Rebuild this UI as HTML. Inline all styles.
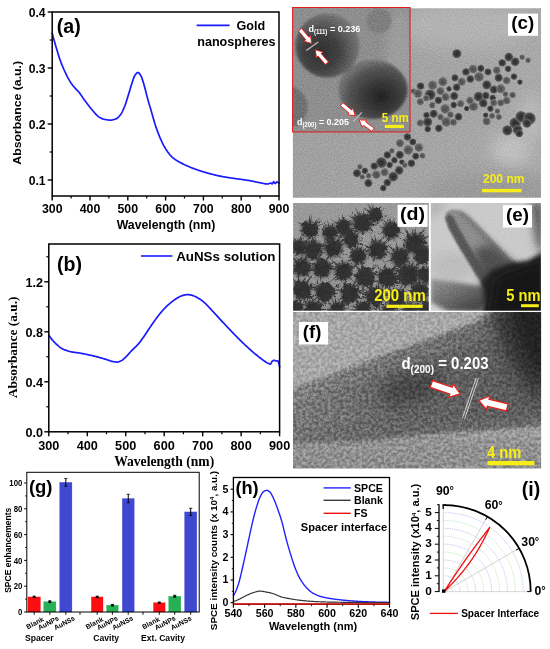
<!DOCTYPE html>
<html lang="en"><head><meta charset="utf-8"><title>Figure</title>
<style>html,body{margin:0;padding:0;background:#fff}svg{display:block}</style></head>
<body>
<svg width="550" height="649" viewBox="0 0 550 649">
<defs>
<filter id="nz" x="0" y="0" width="100%" height="100%" color-interpolation-filters="sRGB">
  <feTurbulence type="fractalNoise" baseFrequency="0.85" numOctaves="2" seed="7"/>
  <feColorMatrix type="matrix" values="1.6 0 0 0 -0.3  1.6 0 0 0 -0.3  1.6 0 0 0 -0.3  0 0 0 0 1"/>
</filter>
<filter id="nzf" x="0" y="0" width="100%" height="100%" color-interpolation-filters="sRGB">
  <feTurbulence type="fractalNoise" baseFrequency="0.32" numOctaves="3" seed="11"/>
  <feColorMatrix type="matrix" values="2.4 0 0 0 -0.7  2.4 0 0 0 -0.7  2.4 0 0 0 -0.7  0 0 0 0 1"/>
</filter>
<filter id="rough" x="-5%" y="-5%" width="110%" height="110%">
  <feTurbulence type="fractalNoise" baseFrequency="0.28" numOctaves="2" seed="4" result="t"/>
  <feDisplacementMap in="SourceGraphic" in2="t" scale="6" xChannelSelector="R" yChannelSelector="G"/>
  <feGaussianBlur stdDeviation="0.55"/>
</filter>
<filter id="b05" x="-20%" y="-20%" width="140%" height="140%"><feGaussianBlur stdDeviation="0.5"/></filter>
<filter id="b1" x="-20%" y="-20%" width="140%" height="140%"><feGaussianBlur stdDeviation="1"/></filter>
<filter id="b2" x="-30%" y="-30%" width="160%" height="160%"><feGaussianBlur stdDeviation="2"/></filter>
<filter id="b4" x="-40%" y="-40%" width="180%" height="180%"><feGaussianBlur stdDeviation="4"/></filter>
<filter id="b8" x="-50%" y="-50%" width="200%" height="200%"><feGaussianBlur stdDeviation="8"/></filter>
<radialGradient id="pt" cx="0.5" cy="0.5" r="0.5">
  <stop offset="0" stop-color="#2a2a2a"/><stop offset="0.55" stop-color="#3c3c3c"/><stop offset="0.85" stop-color="#5c5c5c"/><stop offset="1" stop-color="#808080" stop-opacity="0.6"/>
</radialGradient>
<radialGradient id="pt2" cx="0.45" cy="0.55" r="0.5">
  <stop offset="0" stop-color="#4c4c4c"/><stop offset="0.6" stop-color="#5c5c5c"/><stop offset="0.88" stop-color="#747474"/><stop offset="1" stop-color="#8c8c8c" stop-opacity="0.6"/>
</radialGradient>
<radialGradient id="sph1" cx="0.40" cy="0.60" r="0.62">
  <stop offset="0" stop-color="#303030"/><stop offset="0.45" stop-color="#404040"/><stop offset="0.75" stop-color="#5e5e5e"/><stop offset="1" stop-color="#767676"/>
</radialGradient>
<radialGradient id="sph2" cx="0.62" cy="0.62" r="0.6">
  <stop offset="0" stop-color="#222222"/><stop offset="0.4" stop-color="#383838"/><stop offset="0.8" stop-color="#545454"/><stop offset="1" stop-color="#707070"/>
</radialGradient>
<linearGradient id="cbg" x1="0" y1="0" x2="1" y2="0">
  <stop offset="0" stop-color="#a0a0a0"/><stop offset="0.5" stop-color="#a4a4a4"/><stop offset="1" stop-color="#a9a9a9"/>
</linearGradient>
<linearGradient id="dbg" x1="0" y1="0" x2="0" y2="1">
  <stop offset="0" stop-color="#9a9a9a"/><stop offset="0.4" stop-color="#989898"/><stop offset="1" stop-color="#8e8e8e"/>
</linearGradient>
<linearGradient id="fband" gradientUnits="userSpaceOnUse" x1="293" y1="0" x2="541" y2="0">
  <stop offset="0" stop-color="#828282"/><stop offset="0.4" stop-color="#727272"/><stop offset="1" stop-color="#666666"/>
</linearGradient>
<linearGradient id="fband2" gradientUnits="userSpaceOnUse" x1="293" y1="0" x2="541" y2="0">
  <stop offset="0" stop-color="#787878"/><stop offset="0.4" stop-color="#606060"/><stop offset="1" stop-color="#545454"/>
</linearGradient>
<linearGradient id="espk" gradientUnits="userSpaceOnUse" x1="445" y1="280" x2="462" y2="312">
  <stop offset="0" stop-color="#8a8a8a"/><stop offset="0.5" stop-color="#6c6c6c"/><stop offset="1" stop-color="#4a4a4a"/>
</linearGradient>
<linearGradient id="fbot" x1="0" y1="0" x2="0" y2="1">
  <stop offset="0" stop-color="#000" stop-opacity="0"/><stop offset="0.5" stop-color="#000" stop-opacity="0.13"/><stop offset="1" stop-color="#000" stop-opacity="0.16"/>
</linearGradient>
<clipPath id="clipC"><rect x="292.9" y="8.3" width="248.1" height="189.4"/></clipPath>
<clipPath id="clipIn"><rect x="292.6" y="7" width="117.9" height="125.3"/></clipPath>
<clipPath id="clipD"><rect x="293.1" y="203.0" width="135.7" height="107.8"/></clipPath>
<clipPath id="clipE"><rect x="430.8" y="203.0" width="110.1" height="107.7"/></clipPath>
<clipPath id="clipF"><rect x="293.0" y="312.1" width="248.1" height="156.3"/></clipPath>
</defs>

<rect x="0" y="0" width="550" height="649" fill="#fff"/>
<g id="panel-a">
<polyline points="52.20,33.28 52.77,35.37 53.34,37.44 53.91,39.48 54.47,41.50 55.04,43.49 55.61,45.46 56.18,47.40 56.75,49.35 57.32,51.29 57.88,53.21 58.45,55.08 59.02,56.87 59.59,58.56 60.16,60.14 60.73,61.68 61.29,63.17 61.86,64.63 62.43,66.03 63.00,67.40 63.57,68.73 64.14,70.02 64.71,71.27 65.27,72.49 65.84,73.67 66.41,74.82 66.98,75.96 67.55,77.06 68.12,78.13 68.68,79.17 69.25,80.17 69.82,81.13 70.39,82.04 70.96,82.91 71.53,83.73 72.09,84.50 72.66,85.24 73.23,85.94 73.80,86.62 74.37,87.28 74.94,87.93 75.51,88.57 76.07,89.20 76.64,89.79 77.21,90.36 77.78,90.93 78.35,91.52 78.92,92.16 79.48,92.86 80.05,93.62 80.62,94.42 81.19,95.26 81.76,96.12 82.33,96.99 82.89,97.85 83.46,98.69 84.03,99.51 84.60,100.29 85.17,101.06 85.74,101.83 86.31,102.59 86.87,103.35 87.44,104.11 88.01,104.85 88.58,105.58 89.15,106.31 89.72,107.02 90.28,107.72 90.85,108.40 91.42,109.07 91.99,109.72 92.56,110.38 93.13,111.04 93.69,111.71 94.26,112.38 94.83,113.04 95.40,113.69 95.97,114.31 96.54,114.91 97.11,115.47 97.67,115.99 98.24,116.46 98.81,116.88 99.38,117.24 99.95,117.55 100.52,117.85 101.08,118.14 101.65,118.40 102.22,118.65 102.79,118.88 103.36,119.08 103.93,119.25 104.49,119.40 105.06,119.51 105.63,119.60 106.20,119.69 106.77,119.78 107.34,119.86 107.91,119.93 108.47,119.98 109.04,120.03 109.61,120.06 110.18,120.08 110.75,120.07 111.32,120.04 111.88,119.97 112.45,119.88 113.02,119.76 113.59,119.62 114.16,119.46 114.73,119.28 115.29,119.10 115.86,118.90 116.43,118.63 117.00,118.27 117.57,117.84 118.14,117.33 118.71,116.77 119.27,116.16 119.84,115.51 120.41,114.83 120.98,114.03 121.55,113.09 122.12,112.04 122.68,110.89 123.25,109.66 123.82,108.36 124.39,107.01 124.96,105.63 125.53,104.08 126.09,102.38 126.66,100.57 127.23,98.69 127.80,96.80 128.37,94.92 128.94,93.08 129.51,91.16 130.07,89.22 130.64,87.28 131.21,85.41 131.78,83.65 132.35,81.97 132.92,80.25 133.48,78.59 134.05,77.10 134.62,75.87 135.19,74.99 135.76,74.21 136.33,73.50 136.89,72.93 137.46,72.57 138.03,72.49 138.60,72.74 139.17,73.25 139.74,73.96 140.31,74.77 140.87,75.64 141.44,76.85 142.01,78.38 142.58,80.12 143.15,81.97 143.72,83.81 144.28,85.73 144.85,87.83 145.42,90.04 145.99,92.32 146.56,94.61 147.13,96.85 147.69,99.01 148.26,101.03 148.83,102.97 149.40,104.87 149.97,106.74 150.54,108.61 151.11,110.50 151.67,112.45 152.24,114.46 152.81,116.49 153.38,118.53 153.95,120.54 154.52,122.49 155.08,124.37 155.65,126.14 156.22,127.77 156.79,129.35 157.36,130.89 157.93,132.41 158.49,133.89 159.06,135.34 159.63,136.75 160.20,138.11 160.77,139.43 161.34,140.71 161.91,141.94 162.47,143.11 163.04,144.23 163.61,145.29 164.18,146.30 164.75,147.26 165.32,148.19 165.88,149.11 166.45,149.99 167.02,150.85 167.59,151.69 168.16,152.49 168.73,153.26 169.29,153.99 169.86,154.69 170.43,155.35 171.00,155.97 171.57,156.55 172.14,157.08 172.71,157.58 173.27,158.05 173.84,158.50 174.41,158.93 174.98,159.34 175.55,159.74 176.12,160.12 176.68,160.48 177.25,160.84 177.82,161.18 178.39,161.51 178.96,161.83 179.53,162.15 180.09,162.45 180.66,162.75 181.23,163.05 181.80,163.34 182.37,163.63 182.94,163.92 183.51,164.20 184.07,164.49 184.64,164.76 185.21,165.04 185.78,165.30 186.35,165.56 186.92,165.82 187.48,166.07 188.05,166.32 188.62,166.56 189.19,166.80 189.76,167.03 190.33,167.26 190.89,167.49 191.46,167.71 192.03,167.94 192.60,168.15 193.17,168.37 193.74,168.58 194.31,168.79 194.87,169.00 195.44,169.21 196.01,169.41 196.58,169.61 197.15,169.81 197.72,170.01 198.28,170.20 198.85,170.39 199.42,170.58 199.99,170.77 200.56,170.96 201.13,171.14 201.69,171.32 202.26,171.50 202.83,171.68 203.40,171.85 203.97,172.03 204.54,172.20 205.11,172.36 205.67,172.53 206.24,172.69 206.81,172.85 207.38,173.01 207.95,173.17 208.52,173.32 209.08,173.48 209.65,173.63 210.22,173.78 210.79,173.93 211.36,174.08 211.93,174.22 212.49,174.37 213.06,174.51 213.63,174.65 214.20,174.79 214.77,174.93 215.34,175.06 215.91,175.20 216.47,175.33 217.04,175.46 217.61,175.58 218.18,175.71 218.75,175.83 219.32,175.95 219.88,176.07 220.45,176.18 221.02,176.30 221.59,176.40 222.16,176.51 222.73,176.62 223.29,176.72 223.86,176.82 224.43,176.92 225.00,177.01 225.57,177.11 226.14,177.20 226.71,177.29 227.27,177.39 227.84,177.47 228.41,177.56 228.98,177.65 229.55,177.74 230.12,177.82 230.68,177.91 231.25,177.99 231.82,178.08 232.39,178.16 232.96,178.25 233.53,178.33 234.09,178.41 234.66,178.50 235.23,178.58 235.80,178.67 236.37,178.75 236.94,178.83 237.51,178.91 238.07,178.98 238.64,179.06 239.21,179.13 239.78,179.21 240.35,179.28 240.92,179.36 241.48,179.43 242.05,179.51 242.62,179.58 243.19,179.66 243.76,179.73 244.33,179.81 244.89,179.89 245.46,179.97 246.03,180.05 246.60,180.14 247.17,180.22 247.74,180.31 248.31,180.40 248.87,180.50 249.44,180.60 250.01,180.70 250.58,180.81 251.15,180.92 251.72,181.04 252.28,181.15 252.85,181.27 253.42,181.39 253.99,181.51 254.56,181.64 255.13,181.76 255.69,181.88 256.26,182.00 256.83,182.12 257.40,182.24 257.97,182.35 258.54,182.46 259.11,182.57 259.67,182.67 260.24,182.78 260.81,182.90 261.38,183.02 261.95,183.15 262.52,183.27 263.08,183.40 263.65,183.51 264.22,183.62 264.79,183.72 265.36,183.81 265.93,183.88 266.49,183.93 267.06,183.97 267.63,183.98 268.20,183.88 268.77,183.68 269.34,183.44 269.91,183.22 270.47,183.09 271.04,183.20 271.61,183.64 272.18,183.92 272.75,183.24 273.32,182.05 273.88,181.75 274.45,182.64 275.02,183.55 275.59,183.39 276.16,182.50 276.73,181.96 277.29,182.00 277.86,182.19 278.43,182.61 279.00,183.36" fill="none" stroke="#1a1aff" stroke-width="1.7" stroke-linejoin="round" stroke-linecap="round" />
<rect x="52.2" y="12.0" width="226.80" height="184.00" fill="none" stroke="#000" stroke-width="1.5"/>
<line x1="47.70" y1="180.00" x2="52.20" y2="180.00" stroke="#000" stroke-width="1.4" />
<text transform="translate(45.60,184.70) scale(0.93,1)" font-family='"Liberation Sans", Arial, sans-serif' font-size="13.1" font-weight="bold" text-anchor="end" fill="#000" >0.1</text>
<line x1="47.70" y1="124.00" x2="52.20" y2="124.00" stroke="#000" stroke-width="1.4" />
<text transform="translate(45.60,128.70) scale(0.93,1)" font-family='"Liberation Sans", Arial, sans-serif' font-size="13.1" font-weight="bold" text-anchor="end" fill="#000" >0.2</text>
<line x1="47.70" y1="68.00" x2="52.20" y2="68.00" stroke="#000" stroke-width="1.4" />
<text transform="translate(45.60,72.70) scale(0.93,1)" font-family='"Liberation Sans", Arial, sans-serif' font-size="13.1" font-weight="bold" text-anchor="end" fill="#000" >0.3</text>
<line x1="47.70" y1="12.00" x2="52.20" y2="12.00" stroke="#000" stroke-width="1.4" />
<text transform="translate(45.60,16.70) scale(0.93,1)" font-family='"Liberation Sans", Arial, sans-serif' font-size="13.1" font-weight="bold" text-anchor="end" fill="#000" >0.4</text>
<line x1="49.70" y1="152.00" x2="52.20" y2="152.00" stroke="#000" stroke-width="1.2" />
<line x1="49.70" y1="96.00" x2="52.20" y2="96.00" stroke="#000" stroke-width="1.2" />
<line x1="49.70" y1="40.00" x2="52.20" y2="40.00" stroke="#000" stroke-width="1.2" />
<line x1="52.20" y1="196.00" x2="52.20" y2="200.50" stroke="#000" stroke-width="1.4" />
<text transform="translate(52.20,213.20) scale(0.93,1)" font-family='"Liberation Sans", Arial, sans-serif' font-size="13.3" font-weight="bold" text-anchor="middle" fill="#000" >300</text>
<line x1="90.00" y1="196.00" x2="90.00" y2="200.50" stroke="#000" stroke-width="1.4" />
<text transform="translate(90.00,213.20) scale(0.93,1)" font-family='"Liberation Sans", Arial, sans-serif' font-size="13.3" font-weight="bold" text-anchor="middle" fill="#000" >400</text>
<line x1="127.80" y1="196.00" x2="127.80" y2="200.50" stroke="#000" stroke-width="1.4" />
<text transform="translate(127.80,213.20) scale(0.93,1)" font-family='"Liberation Sans", Arial, sans-serif' font-size="13.3" font-weight="bold" text-anchor="middle" fill="#000" >500</text>
<line x1="165.60" y1="196.00" x2="165.60" y2="200.50" stroke="#000" stroke-width="1.4" />
<text transform="translate(165.60,213.20) scale(0.93,1)" font-family='"Liberation Sans", Arial, sans-serif' font-size="13.3" font-weight="bold" text-anchor="middle" fill="#000" >600</text>
<line x1="203.40" y1="196.00" x2="203.40" y2="200.50" stroke="#000" stroke-width="1.4" />
<text transform="translate(203.40,213.20) scale(0.93,1)" font-family='"Liberation Sans", Arial, sans-serif' font-size="13.3" font-weight="bold" text-anchor="middle" fill="#000" >700</text>
<line x1="241.20" y1="196.00" x2="241.20" y2="200.50" stroke="#000" stroke-width="1.4" />
<text transform="translate(241.20,213.20) scale(0.93,1)" font-family='"Liberation Sans", Arial, sans-serif' font-size="13.3" font-weight="bold" text-anchor="middle" fill="#000" >800</text>
<line x1="279.00" y1="196.00" x2="279.00" y2="200.50" stroke="#000" stroke-width="1.4" />
<text transform="translate(279.00,213.20) scale(0.93,1)" font-family='"Liberation Sans", Arial, sans-serif' font-size="13.3" font-weight="bold" text-anchor="middle" fill="#000" >900</text>
<line x1="71.10" y1="196.00" x2="71.10" y2="198.50" stroke="#000" stroke-width="1.2" />
<line x1="108.90" y1="196.00" x2="108.90" y2="198.50" stroke="#000" stroke-width="1.2" />
<line x1="146.70" y1="196.00" x2="146.70" y2="198.50" stroke="#000" stroke-width="1.2" />
<line x1="184.50" y1="196.00" x2="184.50" y2="198.50" stroke="#000" stroke-width="1.2" />
<line x1="222.30" y1="196.00" x2="222.30" y2="198.50" stroke="#000" stroke-width="1.2" />
<line x1="260.10" y1="196.00" x2="260.10" y2="198.50" stroke="#000" stroke-width="1.2" />
<text transform="translate(20.60,112.80) scale(0.9,1) rotate(-90)" font-family='"Liberation Sans", Arial, sans-serif' font-size="12.3" font-weight="bold" text-anchor="middle" fill="#000" >Absorbance (a.u.)</text>
<text transform="translate(166.00,229.30) scale(0.925,1)" font-family='"Liberation Sans", Arial, sans-serif' font-size="13.3" font-weight="bold" text-anchor="middle" fill="#000" >Wavelength (nm)</text>
<text x="56.80" y="32.80" font-family='"Liberation Sans", Arial, sans-serif' font-size="19.6" font-weight="bold" text-anchor="start" fill="#000" >(a)</text>
<line x1="196.60" y1="25.40" x2="229.60" y2="25.40" stroke="#1a1aff" stroke-width="1.6" />
<text x="250.80" y="29.90" font-family='"Liberation Sans", Arial, sans-serif' font-size="12.6" font-weight="bold" text-anchor="middle" fill="#000" >Gold</text>
<text x="236.40" y="45.80" font-family='"Liberation Sans", Arial, sans-serif' font-size="12.6" font-weight="bold" text-anchor="middle" fill="#000" >nanospheres</text>
</g>
<g id="panel-b">
<polyline points="48.80,335.18 49.38,336.00 49.96,336.82 50.54,337.61 51.11,338.38 51.69,339.13 52.27,339.86 52.85,340.55 53.43,341.21 54.01,341.84 54.58,342.44 55.16,343.01 55.74,343.58 56.32,344.14 56.90,344.68 57.48,345.21 58.06,345.72 58.63,346.21 59.21,346.68 59.79,347.12 60.37,347.54 60.95,347.93 61.53,348.28 62.10,348.59 62.68,348.88 63.26,349.15 63.84,349.42 64.42,349.67 65.00,349.91 65.57,350.14 66.15,350.36 66.73,350.57 67.31,350.77 67.89,350.96 68.47,351.14 69.05,351.30 69.62,351.45 70.20,351.60 70.78,351.73 71.36,351.85 71.94,351.96 72.52,352.06 73.09,352.15 73.67,352.24 74.25,352.32 74.83,352.40 75.41,352.47 75.99,352.55 76.57,352.62 77.14,352.69 77.72,352.77 78.30,352.85 78.88,352.94 79.46,353.03 80.04,353.13 80.61,353.23 81.19,353.33 81.77,353.44 82.35,353.55 82.93,353.66 83.51,353.77 84.09,353.88 84.66,354.00 85.24,354.11 85.82,354.23 86.40,354.35 86.98,354.47 87.56,354.60 88.13,354.72 88.71,354.85 89.29,354.98 89.87,355.11 90.45,355.24 91.03,355.37 91.61,355.50 92.18,355.64 92.76,355.77 93.34,355.91 93.92,356.05 94.50,356.19 95.08,356.33 95.65,356.47 96.23,356.62 96.81,356.77 97.39,356.92 97.97,357.08 98.55,357.23 99.12,357.39 99.70,357.56 100.28,357.72 100.86,357.89 101.44,358.06 102.02,358.22 102.60,358.39 103.17,358.56 103.75,358.74 104.33,358.91 104.91,359.08 105.49,359.25 106.07,359.42 106.64,359.59 107.22,359.78 107.80,359.97 108.38,360.18 108.96,360.39 109.54,360.59 110.12,360.80 110.69,361.00 111.27,361.18 111.85,361.34 112.43,361.49 113.01,361.61 113.59,361.70 114.16,361.78 114.74,361.86 115.32,361.93 115.90,361.99 116.48,362.03 117.06,362.05 117.64,362.03 118.21,361.94 118.79,361.78 119.37,361.58 119.95,361.33 120.53,361.07 121.11,360.81 121.68,360.50 122.26,360.13 122.84,359.70 123.42,359.23 124.00,358.71 124.58,358.17 125.15,357.61 125.73,357.04 126.31,356.48 126.89,355.92 127.47,355.32 128.05,354.69 128.63,354.04 129.20,353.38 129.78,352.71 130.36,352.05 130.94,351.41 131.52,350.78 132.10,350.19 132.67,349.62 133.25,349.06 133.83,348.51 134.41,347.96 134.99,347.42 135.57,346.86 136.15,346.30 136.72,345.72 137.30,345.11 137.88,344.48 138.46,343.82 139.04,343.13 139.62,342.41 140.19,341.67 140.77,340.91 141.35,340.13 141.93,339.34 142.51,338.54 143.09,337.74 143.67,336.91 144.24,336.06 144.82,335.19 145.40,334.31 145.98,333.42 146.56,332.55 147.14,331.68 147.71,330.82 148.29,329.96 148.87,329.10 149.45,328.24 150.03,327.39 150.61,326.53 151.18,325.69 151.76,324.84 152.34,324.01 152.92,323.18 153.50,322.35 154.08,321.52 154.66,320.69 155.23,319.87 155.81,319.06 156.39,318.26 156.97,317.47 157.55,316.70 158.13,315.95 158.70,315.21 159.28,314.48 159.86,313.77 160.44,313.07 161.02,312.38 161.60,311.71 162.18,311.04 162.75,310.39 163.33,309.74 163.91,309.10 164.49,308.48 165.07,307.87 165.65,307.28 166.22,306.70 166.80,306.14 167.38,305.59 167.96,305.06 168.54,304.53 169.12,304.03 169.70,303.53 170.27,303.05 170.85,302.58 171.43,302.12 172.01,301.67 172.59,301.24 173.17,300.81 173.74,300.39 174.32,299.98 174.90,299.57 175.48,299.18 176.06,298.79 176.64,298.41 177.22,298.06 177.79,297.73 178.37,297.41 178.95,297.10 179.53,296.81 180.11,296.53 180.69,296.26 181.26,296.02 181.84,295.80 182.42,295.58 183.00,295.38 183.58,295.20 184.16,295.06 184.73,294.94 185.31,294.83 185.89,294.72 186.47,294.65 187.05,294.61 187.63,294.62 188.21,294.65 188.78,294.71 189.36,294.78 189.94,294.86 190.52,294.95 191.10,295.07 191.68,295.23 192.25,295.41 192.83,295.60 193.41,295.80 193.99,296.03 194.57,296.27 195.15,296.53 195.73,296.81 196.30,297.11 196.88,297.41 197.46,297.72 198.04,298.04 198.62,298.37 199.20,298.72 199.77,299.08 200.35,299.46 200.93,299.85 201.51,300.26 202.09,300.69 202.67,301.12 203.25,301.58 203.82,302.07 204.40,302.58 204.98,303.12 205.56,303.68 206.14,304.25 206.72,304.84 207.29,305.42 207.87,306.01 208.45,306.61 209.03,307.23 209.61,307.86 210.19,308.49 210.76,309.13 211.34,309.77 211.92,310.41 212.50,311.03 213.08,311.66 213.66,312.29 214.24,312.91 214.81,313.54 215.39,314.17 215.97,314.79 216.55,315.42 217.13,316.05 217.71,316.68 218.28,317.30 218.86,317.93 219.44,318.56 220.02,319.19 220.60,319.81 221.18,320.44 221.76,321.06 222.33,321.68 222.91,322.30 223.49,322.92 224.07,323.54 224.65,324.16 225.23,324.78 225.80,325.40 226.38,326.02 226.96,326.64 227.54,327.25 228.12,327.86 228.70,328.48 229.28,329.08 229.85,329.69 230.43,330.30 231.01,330.90 231.59,331.50 232.17,332.10 232.75,332.70 233.32,333.29 233.90,333.89 234.48,334.49 235.06,335.08 235.64,335.67 236.22,336.27 236.79,336.86 237.37,337.44 237.95,338.03 238.53,338.61 239.11,339.19 239.69,339.76 240.27,340.33 240.84,340.90 241.42,341.47 242.00,342.03 242.58,342.59 243.16,343.14 243.74,343.69 244.31,344.24 244.89,344.78 245.47,345.33 246.05,345.87 246.63,346.41 247.21,346.94 247.79,347.47 248.36,348.00 248.94,348.52 249.52,349.04 250.10,349.56 250.68,350.07 251.26,350.58 251.83,351.08 252.41,351.58 252.99,352.07 253.57,352.56 254.15,353.05 254.73,353.54 255.31,354.03 255.88,354.51 256.46,354.99 257.04,355.47 257.62,355.95 258.20,356.42 258.78,356.88 259.35,357.34 259.93,357.79 260.51,358.24 261.09,358.68 261.67,359.11 262.25,359.54 262.83,359.95 263.40,360.36 263.98,360.76 264.56,361.16 265.14,361.56 265.72,361.95 266.30,362.32 266.87,362.68 267.45,363.00 268.03,363.29 268.61,363.57 269.19,363.86 269.77,364.08 270.34,364.17 270.92,363.65 271.50,362.47 272.08,361.39 272.66,360.92 273.24,360.58 273.82,360.35 274.39,360.32 274.97,360.56 275.55,360.88 276.13,361.05 276.71,360.97 277.29,360.84 277.86,360.88 278.44,361.99 279.02,364.10 279.60,366.80" fill="none" stroke="#1a1aff" stroke-width="1.7" stroke-linejoin="round" stroke-linecap="round" />
<rect x="48.8" y="244.0" width="230.80" height="187.80" fill="none" stroke="#000" stroke-width="1.5"/>
<line x1="44.30" y1="431.80" x2="48.80" y2="431.80" stroke="#000" stroke-width="1.4" />
<text transform="translate(43.00,436.50) scale(0.95,1)" font-family='"Liberation Sans", Arial, sans-serif' font-size="13.3" font-weight="bold" text-anchor="end" fill="#000" >0.0</text>
<line x1="44.30" y1="381.80" x2="48.80" y2="381.80" stroke="#000" stroke-width="1.4" />
<text transform="translate(43.00,386.50) scale(0.95,1)" font-family='"Liberation Sans", Arial, sans-serif' font-size="13.3" font-weight="bold" text-anchor="end" fill="#000" >0.4</text>
<line x1="44.30" y1="331.80" x2="48.80" y2="331.80" stroke="#000" stroke-width="1.4" />
<text transform="translate(43.00,336.50) scale(0.95,1)" font-family='"Liberation Sans", Arial, sans-serif' font-size="13.3" font-weight="bold" text-anchor="end" fill="#000" >0.8</text>
<line x1="44.30" y1="281.80" x2="48.80" y2="281.80" stroke="#000" stroke-width="1.4" />
<text transform="translate(43.00,286.50) scale(0.95,1)" font-family='"Liberation Sans", Arial, sans-serif' font-size="13.3" font-weight="bold" text-anchor="end" fill="#000" >1.2</text>
<line x1="46.30" y1="406.80" x2="48.80" y2="406.80" stroke="#000" stroke-width="1.2" />
<line x1="46.30" y1="356.80" x2="48.80" y2="356.80" stroke="#000" stroke-width="1.2" />
<line x1="46.30" y1="306.80" x2="48.80" y2="306.80" stroke="#000" stroke-width="1.2" />
<line x1="46.30" y1="256.80" x2="48.80" y2="256.80" stroke="#000" stroke-width="1.2" />
<line x1="48.80" y1="431.80" x2="48.80" y2="436.30" stroke="#000" stroke-width="1.4" />
<text transform="translate(48.80,449.80) scale(0.95,1)" font-family='"Liberation Sans", Arial, sans-serif' font-size="13.4" font-weight="bold" text-anchor="middle" fill="#000" >300</text>
<line x1="87.27" y1="431.80" x2="87.27" y2="436.30" stroke="#000" stroke-width="1.4" />
<text transform="translate(87.27,449.80) scale(0.95,1)" font-family='"Liberation Sans", Arial, sans-serif' font-size="13.4" font-weight="bold" text-anchor="middle" fill="#000" >400</text>
<line x1="125.73" y1="431.80" x2="125.73" y2="436.30" stroke="#000" stroke-width="1.4" />
<text transform="translate(125.73,449.80) scale(0.95,1)" font-family='"Liberation Sans", Arial, sans-serif' font-size="13.4" font-weight="bold" text-anchor="middle" fill="#000" >500</text>
<line x1="164.20" y1="431.80" x2="164.20" y2="436.30" stroke="#000" stroke-width="1.4" />
<text transform="translate(164.20,449.80) scale(0.95,1)" font-family='"Liberation Sans", Arial, sans-serif' font-size="13.4" font-weight="bold" text-anchor="middle" fill="#000" >600</text>
<line x1="202.67" y1="431.80" x2="202.67" y2="436.30" stroke="#000" stroke-width="1.4" />
<text transform="translate(202.67,449.80) scale(0.95,1)" font-family='"Liberation Sans", Arial, sans-serif' font-size="13.4" font-weight="bold" text-anchor="middle" fill="#000" >700</text>
<line x1="241.13" y1="431.80" x2="241.13" y2="436.30" stroke="#000" stroke-width="1.4" />
<text transform="translate(241.13,449.80) scale(0.95,1)" font-family='"Liberation Sans", Arial, sans-serif' font-size="13.4" font-weight="bold" text-anchor="middle" fill="#000" >800</text>
<line x1="279.60" y1="431.80" x2="279.60" y2="436.30" stroke="#000" stroke-width="1.4" />
<text transform="translate(279.60,449.80) scale(0.95,1)" font-family='"Liberation Sans", Arial, sans-serif' font-size="13.4" font-weight="bold" text-anchor="middle" fill="#000" >900</text>
<line x1="68.03" y1="431.80" x2="68.03" y2="434.30" stroke="#000" stroke-width="1.2" />
<line x1="106.50" y1="431.80" x2="106.50" y2="434.30" stroke="#000" stroke-width="1.2" />
<line x1="144.97" y1="431.80" x2="144.97" y2="434.30" stroke="#000" stroke-width="1.2" />
<line x1="183.43" y1="431.80" x2="183.43" y2="434.30" stroke="#000" stroke-width="1.2" />
<line x1="221.90" y1="431.80" x2="221.90" y2="434.30" stroke="#000" stroke-width="1.2" />
<line x1="260.37" y1="431.80" x2="260.37" y2="434.30" stroke="#000" stroke-width="1.2" />
<text transform="translate(16.80,347.30) rotate(-90)" font-family='"Liberation Serif", "Times New Roman", serif' font-size="13.4" font-weight="bold" text-anchor="middle" fill="#000" >Absorbance (a.u.)</text>
<text x="164.20" y="466.00" font-family='"Liberation Serif", "Times New Roman", serif' font-size="13.6" font-weight="bold" text-anchor="middle" fill="#000" >Wavelength (nm)</text>
<text x="57.00" y="270.50" font-family='"Liberation Sans", Arial, sans-serif' font-size="19.6" font-weight="bold" text-anchor="start" fill="#000" >(b)</text>
<line x1="141.00" y1="256.00" x2="172.40" y2="256.00" stroke="#1a1aff" stroke-width="1.6" />
<text x="176.20" y="260.60" font-family='"Liberation Sans", Arial, sans-serif' font-size="13.35" font-weight="bold" text-anchor="start" fill="#000" >AuNSs solution</text>
</g>
<g id="panel-c">
<g clip-path="url(#clipC)">
<rect x="292" y="8" width="250" height="190" fill="url(#cbg)"/>
<ellipse cx="511" cy="150" rx="20" ry="17" fill="#d0d0d0" opacity="0.62" filter="url(#b8)"/>
<ellipse cx="532" cy="118" rx="12" ry="24" fill="#cccccc" opacity="0.5" filter="url(#b8)"/>
<ellipse cx="460" cy="26" rx="70" ry="22" fill="#c0c0c0" opacity="0.5" filter="url(#b8)"/>
<ellipse cx="495" cy="192" rx="70" ry="20" fill="#969696" opacity="0.75" filter="url(#b8)"/>
<ellipse cx="440" cy="95" rx="50" ry="30" fill="#a2a2a2" opacity="0.45" filter="url(#b8)"/>
<g filter="url(#b05)">
<circle cx="456.8" cy="53.7" r="4.82" fill="url(#pt)"/>
<circle cx="508.8" cy="57.0" r="4.54" fill="url(#pt)"/>
<circle cx="515.2" cy="61.7" r="4.54" fill="url(#pt)"/>
<circle cx="522.3" cy="57.0" r="2.84" fill="url(#pt2)"/>
<circle cx="528.2" cy="60.1" r="2.84" fill="url(#pt2)"/>
<circle cx="502.2" cy="62.9" r="3.97" fill="url(#pt)"/>
<circle cx="508.1" cy="68.8" r="3.40" fill="url(#pt)"/>
<circle cx="497.0" cy="70.0" r="3.97" fill="url(#pt2)"/>
<circle cx="488.0" cy="71.9" r="3.69" fill="url(#pt)"/>
<circle cx="480.9" cy="68.4" r="3.69" fill="url(#pt)"/>
<circle cx="473.4" cy="68.8" r="4.54" fill="url(#pt2)"/>
<circle cx="466.0" cy="71.9" r="3.97" fill="url(#pt)"/>
<circle cx="479.3" cy="76.6" r="5.11" fill="url(#pt2)"/>
<circle cx="470.3" cy="79.0" r="3.97" fill="url(#pt)"/>
<circle cx="462.0" cy="81.4" r="4.26" fill="url(#pt2)"/>
<circle cx="454.9" cy="77.8" r="3.69" fill="url(#pt)"/>
<circle cx="443.1" cy="81.4" r="4.82" fill="url(#pt2)"/>
<circle cx="432.9" cy="84.9" r="4.82" fill="url(#pt2)"/>
<circle cx="420.6" cy="86.1" r="3.97" fill="url(#pt)"/>
<circle cx="413.5" cy="90.8" r="2.84" fill="url(#pt2)"/>
<circle cx="418.3" cy="93.2" r="4.54" fill="url(#pt2)"/>
<circle cx="430.1" cy="94.8" r="5.67" fill="url(#pt)"/>
<circle cx="440.7" cy="90.8" r="4.26" fill="url(#pt2)"/>
<circle cx="449.0" cy="88.9" r="2.84" fill="url(#pt)"/>
<circle cx="456.6" cy="87.3" r="3.97" fill="url(#pt)"/>
<circle cx="454.2" cy="96.0" r="4.26" fill="url(#pt)"/>
<circle cx="445.9" cy="96.7" r="4.26" fill="url(#pt2)"/>
<circle cx="438.4" cy="100.3" r="3.97" fill="url(#pt)"/>
<circle cx="426.5" cy="97.9" r="3.40" fill="url(#pt2)"/>
<circle cx="420.6" cy="101.5" r="3.69" fill="url(#pt2)"/>
<circle cx="432.5" cy="105.0" r="3.40" fill="url(#pt2)"/>
<circle cx="445.5" cy="108.6" r="5.11" fill="url(#pt2)"/>
<circle cx="453.7" cy="105.0" r="3.40" fill="url(#pt)"/>
<circle cx="460.8" cy="103.4" r="3.69" fill="url(#pt2)"/>
<circle cx="466.7" cy="108.6" r="2.84" fill="url(#pt)"/>
<circle cx="473.8" cy="106.2" r="4.82" fill="url(#pt2)"/>
<circle cx="470.3" cy="100.3" r="3.97" fill="url(#pt2)"/>
<circle cx="478.6" cy="96.7" r="5.11" fill="url(#pt)"/>
<circle cx="486.8" cy="84.9" r="4.82" fill="url(#pt)"/>
<circle cx="493.9" cy="89.6" r="4.26" fill="url(#pt)"/>
<circle cx="501.0" cy="88.5" r="4.82" fill="url(#pt2)"/>
<circle cx="498.7" cy="77.8" r="4.26" fill="url(#pt)"/>
<circle cx="506.9" cy="80.2" r="3.97" fill="url(#pt2)"/>
<circle cx="514.0" cy="76.6" r="3.40" fill="url(#pt)"/>
<circle cx="519.9" cy="82.1" r="2.84" fill="url(#pt)"/>
<circle cx="485.7" cy="95.6" r="3.97" fill="url(#pt)"/>
<circle cx="492.7" cy="97.9" r="3.40" fill="url(#pt)"/>
<circle cx="483.3" cy="103.1" r="4.54" fill="url(#pt)"/>
<circle cx="490.4" cy="108.6" r="3.40" fill="url(#pt)"/>
<circle cx="493.9" cy="102.6" r="3.69" fill="url(#pt2)"/>
<circle cx="501.0" cy="102.6" r="3.69" fill="url(#pt2)"/>
<circle cx="506.9" cy="100.3" r="3.97" fill="url(#pt2)"/>
<circle cx="512.8" cy="94.8" r="3.40" fill="url(#pt2)"/>
<circle cx="505.7" cy="93.9" r="2.84" fill="url(#pt2)"/>
<circle cx="497.5" cy="110.9" r="2.84" fill="url(#pt2)"/>
<circle cx="485.7" cy="115.2" r="2.84" fill="url(#pt)"/>
<circle cx="492.3" cy="115.7" r="3.12" fill="url(#pt2)"/>
<circle cx="499.1" cy="116.8" r="3.12" fill="url(#pt2)"/>
<circle cx="486.8" cy="121.1" r="4.26" fill="url(#pt2)"/>
<circle cx="433.6" cy="113.8" r="4.26" fill="url(#pt)"/>
<circle cx="440.7" cy="116.8" r="3.40" fill="url(#pt2)"/>
<circle cx="426.5" cy="115.2" r="3.40" fill="url(#pt)"/>
<circle cx="420.6" cy="122.7" r="3.69" fill="url(#pt2)"/>
<circle cx="427.7" cy="122.0" r="4.82" fill="url(#pt)"/>
<circle cx="427.7" cy="129.1" r="3.40" fill="url(#pt)"/>
<circle cx="438.8" cy="128.2" r="3.97" fill="url(#pt)"/>
<circle cx="446.6" cy="121.6" r="5.11" fill="url(#pt2)"/>
<circle cx="453.7" cy="122.0" r="3.69" fill="url(#pt2)"/>
<circle cx="458.5" cy="116.8" r="3.97" fill="url(#pt)"/>
<circle cx="450.7" cy="114.5" r="3.40" fill="url(#pt2)"/>
<circle cx="515.2" cy="123.2" r="5.96" fill="url(#pt)"/>
<circle cx="521.1" cy="116.8" r="5.96" fill="url(#pt)"/>
<circle cx="529.4" cy="118.5" r="6.52" fill="url(#pt)"/>
<circle cx="527.0" cy="123.2" r="4.82" fill="url(#pt)"/>
<circle cx="517.6" cy="129.8" r="5.11" fill="url(#pt)"/>
<circle cx="507.4" cy="130.3" r="5.39" fill="url(#pt)"/>
<circle cx="519.2" cy="133.4" r="3.97" fill="url(#pt)"/>
<circle cx="407.4" cy="137.0" r="3.97" fill="url(#pt)"/>
<circle cx="400.3" cy="142.9" r="4.26" fill="url(#pt2)"/>
<circle cx="412.8" cy="142.0" r="3.69" fill="url(#pt)"/>
<circle cx="419.2" cy="147.2" r="4.54" fill="url(#pt2)"/>
<circle cx="408.6" cy="149.6" r="5.11" fill="url(#pt2)"/>
<circle cx="399.8" cy="154.8" r="4.26" fill="url(#pt)"/>
<circle cx="392.0" cy="150.7" r="2.84" fill="url(#pt2)"/>
<circle cx="387.3" cy="155.0" r="3.97" fill="url(#pt)"/>
<circle cx="381.4" cy="162.6" r="5.67" fill="url(#pt)"/>
<circle cx="374.3" cy="166.1" r="3.97" fill="url(#pt)"/>
<circle cx="389.6" cy="164.9" r="3.40" fill="url(#pt)"/>
<circle cx="394.4" cy="160.2" r="3.40" fill="url(#pt)"/>
<circle cx="401.9" cy="162.1" r="2.84" fill="url(#pt)"/>
<circle cx="405.0" cy="164.9" r="2.84" fill="url(#pt2)"/>
<circle cx="411.4" cy="163.3" r="3.97" fill="url(#pt)"/>
<circle cx="415.7" cy="156.2" r="3.69" fill="url(#pt)"/>
<circle cx="422.7" cy="155.5" r="3.12" fill="url(#pt2)"/>
<circle cx="399.1" cy="170.4" r="4.54" fill="url(#pt)"/>
<circle cx="384.9" cy="172.0" r="4.26" fill="url(#pt2)"/>
<circle cx="376.6" cy="174.4" r="4.54" fill="url(#pt2)"/>
<circle cx="393.2" cy="176.7" r="5.11" fill="url(#pt)"/>
<circle cx="387.3" cy="182.6" r="3.97" fill="url(#pt)"/>
<circle cx="383.3" cy="188.1" r="3.40" fill="url(#pt)"/>
<circle cx="360.1" cy="166.6" r="2.84" fill="url(#pt2)"/>
<circle cx="357.0" cy="173.2" r="4.26" fill="url(#pt)"/>
<circle cx="364.8" cy="170.8" r="3.40" fill="url(#pt)"/>
<circle cx="362.5" cy="176.7" r="2.84" fill="url(#pt2)"/>
<circle cx="368.8" cy="175.6" r="2.84" fill="url(#pt2)"/>
<circle cx="368.4" cy="183.1" r="4.26" fill="url(#pt)"/>
</g>
<rect x="292" y="8" width="250" height="190" filter="url(#nz)" opacity="0.16" style="mix-blend-mode:overlay"/>
</g>
<g clip-path="url(#clipIn)">
<rect x="292" y="6" width="120" height="128" fill="#8e8e8e"/>
<ellipse cx="400" cy="50" rx="14" ry="40" fill="#9c9c9c" filter="url(#b4)"/>
<g filter="url(#b1)">
<circle cx="379" cy="21" r="12.5" fill="#7e7e7e"/>
<circle cx="286" cy="107" r="21.5" fill="#707070"/>
<circle cx="327.4" cy="45.6" r="32" fill="url(#sph1)"/>
<ellipse cx="373" cy="89.5" rx="34.5" ry="29.5" fill="url(#sph2)"/>
</g>
<rect x="292" y="6" width="120" height="128" filter="url(#nz)" opacity="0.14" style="mix-blend-mode:overlay"/>
</g>
<rect x="292.6" y="7.5" width="117.4" height="124.4" fill="none" stroke="#e3191c" stroke-width="1.0"/>
<line x1="306.30" y1="50.40" x2="318.20" y2="42.10" stroke="#bdbdbd" stroke-width="1.25" />
<line x1="353.50" y1="121.40" x2="361.80" y2="112.40" stroke="#bdbdbd" stroke-width="1.25" />
<polygon points="298.47,30.99 305.82,39.73 304.14,41.15 311.60,43.50 310.57,35.75 308.88,37.16 301.53,28.41" fill="#fff" stroke="#e8201c" stroke-width="0.95" stroke-linejoin="miter"/>
<polygon points="328.41,61.89 321.13,53.48 322.80,52.04 315.30,49.80 316.44,57.54 318.11,56.10 325.39,64.51" fill="#fff" stroke="#e8201c" stroke-width="0.95" stroke-linejoin="miter"/>
<polygon points="340.40,105.72 348.98,113.04 347.55,114.71 355.30,115.80 353.00,108.32 351.58,110.00 343.00,102.68" fill="#fff" stroke="#e8201c" stroke-width="0.95" stroke-linejoin="miter"/>
<polygon points="374.16,128.07 365.64,122.00 366.91,120.21 359.10,119.80 362.04,127.05 363.32,125.26 371.84,131.33" fill="#fff" stroke="#e8201c" stroke-width="0.95" stroke-linejoin="miter"/>
<text x="308.40" y="31.60" font-family='"Liberation Sans", Arial, sans-serif' font-size="9.6" font-weight="bold" text-anchor="start" fill="#fff" textLength="52" lengthAdjust="spacingAndGlyphs">d<tspan font-size="6.4" dy="2.1">(111)</tspan><tspan dy="-2.1"> = 0.236</tspan></text>
<text x="297.00" y="124.90" font-family='"Liberation Sans", Arial, sans-serif' font-size="9.6" font-weight="bold" text-anchor="start" fill="#fff" textLength="52" lengthAdjust="spacingAndGlyphs">d<tspan font-size="6.4" dy="2.1">(200)</tspan><tspan dy="-2.1"> = 0.205</tspan></text>
<rect x="384.8" y="124.8" width="19.10" height="3.20" fill="#f7ee18"/>
<text x="381.80" y="122.00" font-family='"Liberation Sans", Arial, sans-serif' font-size="13.0" font-weight="bold" text-anchor="start" fill="#f7ee18" textLength="27.0" lengthAdjust="spacingAndGlyphs">5 nm</text>
<rect x="508.0" y="13.6" width="30.00" height="22.20" fill="#fff"/>
<text x="522.70" y="28.90" font-family='"Liberation Sans", Arial, sans-serif' font-size="18.8" font-weight="bold" text-anchor="middle" fill="#000" textLength="23" lengthAdjust="spacingAndGlyphs">(c)</text>
<rect x="482.0" y="188.9" width="39.60" height="3.40" fill="#f7ee18"/>
<text x="483.00" y="183.40" font-family='"Liberation Sans", Arial, sans-serif' font-size="12.8" font-weight="bold" text-anchor="start" fill="#f7ee18" textLength="41.4" lengthAdjust="spacingAndGlyphs">200 nm</text>
</g>
<g id="panel-d">
<g clip-path="url(#clipD)">
<rect x="293" y="203" width="136" height="108" fill="url(#dbg)"/>
<g filter="url(#b1)" opacity="0.7">
<circle cx="309.6" cy="229.6" r="8.99" fill="#444444"/>
<circle cx="329.6" cy="233.4" r="7.87" fill="#444444"/>
<circle cx="343.4" cy="227.1" r="8.43" fill="#444444"/>
<circle cx="362.2" cy="223.3" r="9.83" fill="#444444"/>
<circle cx="374.8" cy="215.8" r="7.87" fill="#444444"/>
<circle cx="391.1" cy="230.9" r="8.99" fill="#444444"/>
<circle cx="414.9" cy="243.4" r="11.24" fill="#444444"/>
<circle cx="299.5" cy="247.2" r="8.43" fill="#444444"/>
<circle cx="313.3" cy="249.7" r="9.83" fill="#444444"/>
<circle cx="333.4" cy="248.4" r="9.83" fill="#444444"/>
<circle cx="351.0" cy="239.6" r="8.43" fill="#444444"/>
<circle cx="358.5" cy="255.9" r="8.43" fill="#444444"/>
<circle cx="377.3" cy="249.7" r="9.83" fill="#444444"/>
<circle cx="399.9" cy="257.2" r="9.83" fill="#444444"/>
<circle cx="422.5" cy="254.7" r="9.83" fill="#444444"/>
<circle cx="302.0" cy="267.2" r="9.83" fill="#444444"/>
<circle cx="322.1" cy="268.5" r="9.83" fill="#444444"/>
<circle cx="343.4" cy="271.0" r="9.83" fill="#444444"/>
<circle cx="364.8" cy="277.3" r="9.53" fill="#444444"/>
<circle cx="387.3" cy="277.3" r="9.53" fill="#444444"/>
<circle cx="408.7" cy="274.8" r="11.24" fill="#444444"/>
<circle cx="425.0" cy="274.8" r="8.43" fill="#444444"/>
<circle cx="302.0" cy="289.8" r="9.53" fill="#444444"/>
<circle cx="324.6" cy="292.3" r="9.53" fill="#444444"/>
<circle cx="349.7" cy="293.6" r="9.53" fill="#444444"/>
<circle cx="374.8" cy="296.1" r="9.53" fill="#444444"/>
<circle cx="397.4" cy="297.3" r="9.03" fill="#444444"/>
<circle cx="419.9" cy="292.3" r="9.03" fill="#444444"/>
<circle cx="313.3" cy="309.4" r="8.28" fill="#444444"/>
<circle cx="337.2" cy="310.4" r="8.28" fill="#444444"/>
<circle cx="363.5" cy="310.4" r="8.03" fill="#444444"/>
<circle cx="297.0" cy="307.4" r="6.52" fill="#444444"/>
<circle cx="388.6" cy="312.4" r="7.53" fill="#444444"/>
<circle cx="409.9" cy="310.4" r="7.53" fill="#444444"/>
<circle cx="426.2" cy="308.6" r="7.02" fill="#444444"/>
</g>
<g filter="url(#rough)">
<circle cx="309.6" cy="229.6" r="6.90" fill="#2e2e2e"/>
<circle cx="306.2" cy="226.4" r="4.20" fill="#303030"/>
<circle cx="313.9" cy="228.0" r="4.38" fill="#303030"/>
<circle cx="313.6" cy="230.3" r="4.41" fill="#303030"/>
<circle cx="306.6" cy="225.6" r="3.26" fill="#303030"/>
<polygon points="320.9,229.4 315.4,230.4 315.3,228.6" fill="#353535"/>
<polygon points="320.9,237.2 313.8,233.6 314.9,232.1" fill="#353535"/>
<polygon points="316.5,238.3 312.4,234.7 313.9,233.5" fill="#353535"/>
<polygon points="309.0,245.6 308.4,235.4 310.3,235.4" fill="#353535"/>
<polygon points="301.5,236.7 304.6,232.7 305.8,234.1" fill="#353535"/>
<polygon points="299.0,231.0 303.7,229.5 303.9,231.3" fill="#353535"/>
<polygon points="299.6,226.0 304.4,226.8 303.8,228.5" fill="#353535"/>
<polygon points="296.7,220.6 305.3,225.5 304.3,227.1" fill="#353535"/>
<polygon points="306.4,218.9 308.8,223.8 307.0,224.3" fill="#353535"/>
<polygon points="319.3,217.3 313.9,225.6 312.4,224.5" fill="#353535"/>
<polygon points="322.3,219.4 314.7,226.7 313.5,225.2" fill="#353535"/>
<circle cx="329.6" cy="233.4" r="6.04" fill="#2e2e2e"/>
<circle cx="325.8" cy="232.4" r="2.97" fill="#303030"/>
<circle cx="333.3" cy="231.9" r="3.89" fill="#303030"/>
<circle cx="332.2" cy="231.3" r="3.15" fill="#303030"/>
<circle cx="331.1" cy="235.9" r="2.80" fill="#303030"/>
<polygon points="341.7,232.2 334.8,233.7 334.6,232.0" fill="#353535"/>
<polygon points="341.5,237.3 334.2,235.7 334.7,234.2" fill="#353535"/>
<polygon points="334.7,242.4 331.4,238.2 332.8,237.4" fill="#353535"/>
<polygon points="326.3,244.2 327.3,238.0 328.9,238.4" fill="#353535"/>
<polygon points="323.0,242.6 326.0,237.0 327.3,238.0" fill="#353535"/>
<polygon points="321.0,235.0 324.5,233.5 324.8,235.1" fill="#353535"/>
<polygon points="322.2,229.1 325.6,230.1 324.8,231.5" fill="#353535"/>
<polygon points="322.1,222.1 327.5,228.7 326.1,229.6" fill="#353535"/>
<polygon points="324.7,221.1 328.5,228.4 327.0,229.0" fill="#353535"/>
<polygon points="333.9,222.2 332.2,228.9 330.7,228.3" fill="#353535"/>
<polygon points="335.6,227.0 333.7,230.2 332.5,229.1" fill="#353535"/>
<circle cx="343.4" cy="227.1" r="6.47" fill="#2e2e2e"/>
<circle cx="345.4" cy="231.4" r="3.17" fill="#303030"/>
<circle cx="343.6" cy="222.4" r="4.13" fill="#303030"/>
<circle cx="341.4" cy="230.1" r="3.59" fill="#303030"/>
<circle cx="343.9" cy="224.0" r="3.88" fill="#303030"/>
<polygon points="357.9,229.3 348.7,228.8 348.9,227.0" fill="#353535"/>
<polygon points="357.7,232.1 348.3,229.7 348.8,228.1" fill="#353535"/>
<polygon points="350.1,236.2 345.9,232.0 347.3,230.9" fill="#353535"/>
<polygon points="340.5,241.8 341.5,232.2 343.2,232.6" fill="#353535"/>
<polygon points="334.5,239.2 339.5,230.9 340.9,232.0" fill="#353535"/>
<polygon points="332.7,230.0 338.0,227.7 338.4,229.3" fill="#353535"/>
<polygon points="333.4,225.1 338.3,225.2 337.9,226.9" fill="#353535"/>
<polygon points="335.4,221.1 339.6,223.1 338.6,224.5" fill="#353535"/>
<polygon points="342.7,211.6 344.0,221.6 342.3,221.7" fill="#353535"/>
<polygon points="345.8,218.0 345.7,222.1 344.0,221.6" fill="#353535"/>
<polygon points="355.3,223.1 348.9,226.2 348.3,224.5" fill="#353535"/>
<circle cx="362.2" cy="223.3" r="7.55" fill="#2e2e2e"/>
<circle cx="359.0" cy="225.5" r="4.30" fill="#303030"/>
<circle cx="364.3" cy="219.4" r="4.04" fill="#303030"/>
<circle cx="367.4" cy="225.2" r="3.45" fill="#303030"/>
<circle cx="357.0" cy="223.5" r="3.60" fill="#303030"/>
<polygon points="379.9,225.4 368.4,225.1 368.7,223.0" fill="#353535"/>
<polygon points="375.5,233.1 366.7,227.9 367.9,226.3" fill="#353535"/>
<polygon points="370.4,234.6 365.1,229.1 366.8,227.9" fill="#353535"/>
<polygon points="362.8,240.3 361.4,229.7 363.5,229.6" fill="#353535"/>
<polygon points="354.2,234.8 357.8,227.9 359.4,229.1" fill="#353535"/>
<polygon points="345.2,223.9 355.9,222.5 355.9,224.6" fill="#353535"/>
<polygon points="350.1,216.3 357.3,219.3 356.2,221.0" fill="#353535"/>
<polygon points="351.6,211.2 358.8,217.9 357.3,219.2" fill="#353535"/>
<polygon points="360.3,210.7 362.3,216.9 360.3,217.2" fill="#353535"/>
<polygon points="366.6,212.5 365.5,217.8 363.6,217.1" fill="#353535"/>
<polygon points="376.8,212.7 368.0,220.4 366.8,218.8" fill="#353535"/>
<circle cx="374.8" cy="215.8" r="6.04" fill="#2e2e2e"/>
<circle cx="378.5" cy="214.8" r="3.32" fill="#303030"/>
<circle cx="373.3" cy="218.2" r="3.05" fill="#303030"/>
<circle cx="375.6" cy="211.6" r="3.16" fill="#303030"/>
<circle cx="375.7" cy="211.8" r="3.56" fill="#303030"/>
<polygon points="387.8,216.9 379.8,217.0 379.9,215.4" fill="#353535"/>
<polygon points="385.9,221.9 378.8,219.0 379.6,217.5" fill="#353535"/>
<polygon points="380.6,225.6 376.7,220.6 378.1,219.7" fill="#353535"/>
<polygon points="371.3,227.9 372.6,220.4 374.2,220.9" fill="#353535"/>
<polygon points="366.7,227.4 371.2,219.5 372.6,220.4" fill="#353535"/>
<polygon points="363.1,218.3 369.7,216.1 370.0,217.7" fill="#353535"/>
<polygon points="363.0,215.3 369.8,214.8 369.7,216.4" fill="#353535"/>
<polygon points="365.5,207.4 371.6,211.8 370.5,213.0" fill="#353535"/>
<polygon points="372.6,202.6 374.8,210.7 373.2,210.9" fill="#353535"/>
<polygon points="381.2,204.2 377.9,211.7 376.5,211.0" fill="#353535"/>
<polygon points="384.6,208.4 379.3,213.4 378.3,212.1" fill="#353535"/>
<circle cx="391.1" cy="230.9" r="6.90" fill="#2e2e2e"/>
<circle cx="390.7" cy="226.0" r="3.59" fill="#303030"/>
<circle cx="393.8" cy="226.8" r="4.06" fill="#303030"/>
<circle cx="396.1" cy="230.1" r="3.82" fill="#303030"/>
<circle cx="387.7" cy="230.2" r="4.26" fill="#303030"/>
<polygon points="403.7,233.7 396.5,233.0 397.0,231.2" fill="#353535"/>
<polygon points="402.6,239.9 395.1,235.2 396.2,233.7" fill="#353535"/>
<polygon points="394.4,241.2 392.0,236.7 393.8,236.1" fill="#353535"/>
<polygon points="387.3,244.0 388.6,236.2 390.4,236.7" fill="#353535"/>
<polygon points="382.1,239.6 386.3,234.2 387.6,235.6" fill="#353535"/>
<polygon points="376.5,234.2 385.2,231.2 385.7,233.0" fill="#353535"/>
<polygon points="377.4,225.8 386.0,228.0 385.3,229.7" fill="#353535"/>
<polygon points="382.3,224.6 386.9,226.7 385.8,228.2" fill="#353535"/>
<polygon points="388.7,216.9 391.0,225.0 389.2,225.3" fill="#353535"/>
<polygon points="395.2,217.0 393.6,225.6 391.8,225.0" fill="#353535"/>
<polygon points="399.8,226.0 396.6,228.9 395.7,227.2" fill="#353535"/>
<circle cx="414.9" cy="243.4" r="8.63" fill="#2e2e2e"/>
<circle cx="410.5" cy="244.2" r="3.98" fill="#303030"/>
<circle cx="418.1" cy="246.9" r="4.20" fill="#303030"/>
<circle cx="416.3" cy="247.1" r="4.69" fill="#303030"/>
<circle cx="410.9" cy="247.1" r="4.90" fill="#303030"/>
<polygon points="434.6,240.8 422.3,243.6 422.0,241.3" fill="#353535"/>
<polygon points="429.7,248.3 421.4,246.8 422.2,244.6" fill="#353535"/>
<polygon points="423.0,256.8 417.6,250.2 419.7,249.0" fill="#353535"/>
<polygon points="415.9,262.6 414.1,250.7 416.5,250.6" fill="#353535"/>
<polygon points="407.4,253.3 409.6,248.4 411.5,249.9" fill="#353535"/>
<polygon points="402.4,246.3 407.6,243.9 408.1,246.2" fill="#353535"/>
<polygon points="400.6,238.8 408.4,240.1 407.7,242.3" fill="#353535"/>
<polygon points="402.2,227.5 411.3,237.0 409.5,238.5" fill="#353535"/>
<polygon points="415.2,227.7 416.2,236.2 413.9,236.1" fill="#353535"/>
<polygon points="424.7,228.7 419.9,238.0 418.0,236.7" fill="#353535"/>
<polygon points="425.6,235.5 421.4,240.0 420.1,238.2" fill="#353535"/>
<circle cx="299.5" cy="247.2" r="6.47" fill="#2e2e2e"/>
<circle cx="296.2" cy="244.9" r="4.15" fill="#303030"/>
<circle cx="303.5" cy="246.3" r="3.37" fill="#303030"/>
<circle cx="301.8" cy="245.3" r="3.05" fill="#303030"/>
<circle cx="295.8" cy="245.5" r="3.09" fill="#303030"/>
<polygon points="314.3,248.1 304.9,248.4 305.0,246.6" fill="#353535"/>
<polygon points="309.9,252.9 303.8,250.6 304.7,249.0" fill="#353535"/>
<polygon points="305.4,256.4 301.7,252.2 303.2,251.3" fill="#353535"/>
<polygon points="295.3,257.9 296.7,251.9 298.3,252.5" fill="#353535"/>
<polygon points="287.4,255.9 294.6,249.6 295.6,251.1" fill="#353535"/>
<polygon points="289.1,249.7 294.0,247.6 294.5,249.3" fill="#353535"/>
<polygon points="288.9,241.0 295.3,243.7 294.4,245.2" fill="#353535"/>
<polygon points="291.9,239.1 296.4,242.6 295.2,243.8" fill="#353535"/>
<polygon points="300.7,235.0 300.9,241.8 299.2,241.7" fill="#353535"/>
<polygon points="303.4,235.6 302.1,242.3 300.4,241.7" fill="#353535"/>
<polygon points="309.0,238.1 304.1,244.1 302.9,242.8" fill="#353535"/>
<circle cx="313.3" cy="249.7" r="7.55" fill="#2e2e2e"/>
<circle cx="309.5" cy="251.1" r="4.58" fill="#303030"/>
<circle cx="314.9" cy="246.6" r="4.20" fill="#303030"/>
<circle cx="312.5" cy="255.1" r="4.58" fill="#303030"/>
<circle cx="313.4" cy="253.7" r="3.63" fill="#303030"/>
<polygon points="325.7,252.8 319.2,252.2 319.7,250.2" fill="#353535"/>
<polygon points="324.8,258.0 317.9,254.2 319.1,252.5" fill="#353535"/>
<polygon points="318.6,263.9 314.6,256.0 316.5,255.2" fill="#353535"/>
<polygon points="310.3,260.7 310.7,255.5 312.7,256.1" fill="#353535"/>
<polygon points="303.7,258.2 307.9,253.1 309.3,254.6" fill="#353535"/>
<polygon points="300.7,253.1 306.9,250.4 307.5,252.3" fill="#353535"/>
<polygon points="299.0,247.0 307.3,247.5 306.9,249.5" fill="#353535"/>
<polygon points="304.4,239.8 309.9,244.3 308.3,245.6" fill="#353535"/>
<polygon points="313.0,234.6 314.2,243.3 312.2,243.4" fill="#353535"/>
<polygon points="315.8,237.4 315.6,243.7 313.6,243.3" fill="#353535"/>
<polygon points="327.8,239.9 319.1,247.0 318.0,245.3" fill="#353535"/>
<circle cx="333.4" cy="248.4" r="7.55" fill="#2e2e2e"/>
<circle cx="336.9" cy="245.4" r="3.42" fill="#303030"/>
<circle cx="334.2" cy="244.1" r="4.27" fill="#303030"/>
<circle cx="332.1" cy="243.7" r="4.13" fill="#303030"/>
<circle cx="337.0" cy="246.2" r="3.99" fill="#303030"/>
<polygon points="345.3,250.5 339.5,250.5 339.8,248.5" fill="#353535"/>
<polygon points="348.4,256.0 338.6,252.2 339.5,250.4" fill="#353535"/>
<polygon points="343.6,261.9 336.4,254.1 338.0,252.9" fill="#353535"/>
<polygon points="330.1,261.9 330.9,254.3 332.9,254.8" fill="#353535"/>
<polygon points="324.0,261.9 328.9,253.0 330.6,254.2" fill="#353535"/>
<polygon points="321.8,249.3 327.0,247.9 327.2,249.9" fill="#353535"/>
<polygon points="319.2,244.4 327.6,245.7 327.0,247.7" fill="#353535"/>
<polygon points="324.8,238.5 330.0,243.0 328.5,244.3" fill="#353535"/>
<polygon points="328.7,234.2 332.4,242.1 330.5,242.7" fill="#353535"/>
<polygon points="339.5,239.2 337.7,243.7 336.0,242.6" fill="#353535"/>
<polygon points="346.1,237.5 338.9,245.1 337.6,243.5" fill="#353535"/>
<circle cx="351.0" cy="239.6" r="6.47" fill="#2e2e2e"/>
<circle cx="352.0" cy="235.6" r="2.95" fill="#303030"/>
<circle cx="350.1" cy="234.9" r="4.21" fill="#303030"/>
<circle cx="350.0" cy="236.8" r="4.00" fill="#303030"/>
<circle cx="351.8" cy="243.7" r="4.15" fill="#303030"/>
<polygon points="360.8,240.7 356.3,241.1 356.5,239.3" fill="#353535"/>
<polygon points="364.4,246.4 355.4,242.9 356.2,241.3" fill="#353535"/>
<polygon points="358.3,250.3 353.3,244.6 354.8,243.6" fill="#353535"/>
<polygon points="349.9,249.7 349.5,244.9 351.3,245.1" fill="#353535"/>
<polygon points="344.4,246.3 346.5,242.9 347.8,244.1" fill="#353535"/>
<polygon points="340.7,245.0 345.7,241.4 346.5,242.9" fill="#353535"/>
<polygon points="341.5,239.0 345.6,238.4 345.5,240.1" fill="#353535"/>
<polygon points="342.3,228.8 348.2,234.8 346.9,235.9" fill="#353535"/>
<polygon points="351.4,229.7 352.1,234.2 350.3,234.2" fill="#353535"/>
<polygon points="355.2,229.4 353.9,235.0 352.2,234.3" fill="#353535"/>
<polygon points="361.6,233.5 356.1,237.7 355.2,236.2" fill="#353535"/>
<circle cx="358.5" cy="255.9" r="6.47" fill="#2e2e2e"/>
<circle cx="361.9" cy="254.6" r="2.98" fill="#303030"/>
<circle cx="357.4" cy="252.9" r="3.73" fill="#303030"/>
<circle cx="353.8" cy="255.8" r="3.63" fill="#303030"/>
<circle cx="356.0" cy="253.6" r="3.63" fill="#303030"/>
<polygon points="372.3,254.2 364.0,256.1 363.8,254.4" fill="#353535"/>
<polygon points="366.8,261.4 362.5,259.6 363.5,258.2" fill="#353535"/>
<polygon points="364.6,265.6 360.6,261.0 362.1,260.1" fill="#353535"/>
<polygon points="355.8,265.8 356.2,261.0 357.9,261.4" fill="#353535"/>
<polygon points="348.8,265.0 353.9,259.0 355.1,260.3" fill="#353535"/>
<polygon points="346.7,262.3 353.3,257.7 354.1,259.3" fill="#353535"/>
<polygon points="348.6,255.1 353.1,254.6 353.0,256.4" fill="#353535"/>
<polygon points="351.9,247.6 355.8,251.1 354.4,252.2" fill="#353535"/>
<polygon points="359.0,243.8 359.6,250.6 357.9,250.5" fill="#353535"/>
<polygon points="363.2,242.5 361.1,251.1 359.5,250.5" fill="#353535"/>
<polygon points="368.0,246.0 362.9,252.6 361.6,251.4" fill="#353535"/>
<circle cx="377.3" cy="249.7" r="7.55" fill="#2e2e2e"/>
<circle cx="380.8" cy="250.9" r="4.84" fill="#303030"/>
<circle cx="375.7" cy="246.1" r="3.57" fill="#303030"/>
<circle cx="382.1" cy="248.8" r="4.64" fill="#303030"/>
<circle cx="380.4" cy="253.4" r="3.93" fill="#303030"/>
<polygon points="390.3,247.9 383.7,249.8 383.4,247.8" fill="#353535"/>
<polygon points="388.0,257.4 381.8,254.2 383.0,252.6" fill="#353535"/>
<polygon points="382.7,259.9 379.4,255.7 381.2,254.8" fill="#353535"/>
<polygon points="372.6,264.4 374.4,255.4 376.3,256.0" fill="#353535"/>
<polygon points="366.8,258.6 371.8,253.0 373.1,254.6" fill="#353535"/>
<polygon points="362.9,251.3 370.9,249.3 371.1,251.4" fill="#353535"/>
<polygon points="363.2,244.8 371.6,246.6 371.0,248.6" fill="#353535"/>
<polygon points="369.7,238.4 374.6,243.8 372.9,245.0" fill="#353535"/>
<polygon points="373.6,239.5 376.1,243.4 374.2,244.0" fill="#353535"/>
<polygon points="380.3,239.2 380.0,243.9 378.1,243.3" fill="#353535"/>
<polygon points="390.5,244.4 383.6,248.3 382.8,246.4" fill="#353535"/>
<circle cx="399.9" cy="257.2" r="7.55" fill="#2e2e2e"/>
<circle cx="400.1" cy="253.8" r="4.11" fill="#303030"/>
<circle cx="403.6" cy="254.1" r="4.05" fill="#303030"/>
<circle cx="396.3" cy="258.0" r="3.63" fill="#303030"/>
<circle cx="402.2" cy="260.8" r="3.98" fill="#303030"/>
<polygon points="411.4,259.4 405.9,259.4 406.3,257.4" fill="#353535"/>
<polygon points="411.3,262.7 405.1,260.9 406.0,259.0" fill="#353535"/>
<polygon points="407.0,267.7 402.6,263.0 404.3,261.9" fill="#353535"/>
<polygon points="399.7,271.4 398.8,263.5 400.8,263.5" fill="#353535"/>
<polygon points="391.8,272.8 396.0,262.3 397.9,263.3" fill="#353535"/>
<polygon points="383.3,263.3 393.6,258.4 394.3,260.3" fill="#353535"/>
<polygon points="385.3,251.4 394.4,253.9 393.6,255.8" fill="#353535"/>
<polygon points="388.1,244.0 396.4,251.8 394.9,253.1" fill="#353535"/>
<polygon points="394.8,242.4 398.8,250.9 396.8,251.5" fill="#353535"/>
<polygon points="404.9,242.3 402.9,251.5 400.9,250.9" fill="#353535"/>
<polygon points="410.5,252.0 406.0,255.3 405.1,253.5" fill="#353535"/>
<circle cx="422.5" cy="254.7" r="7.55" fill="#2e2e2e"/>
<circle cx="423.5" cy="258.0" r="3.75" fill="#303030"/>
<circle cx="426.3" cy="256.7" r="4.87" fill="#303030"/>
<circle cx="419.8" cy="257.8" r="4.11" fill="#303030"/>
<circle cx="421.4" cy="259.6" r="4.48" fill="#303030"/>
<polygon points="434.7,252.6 428.9,254.6 428.5,252.6" fill="#353535"/>
<polygon points="436.4,265.5 426.8,259.4 428.1,257.7" fill="#353535"/>
<polygon points="427.3,267.6 423.7,261.0 425.6,260.3" fill="#353535"/>
<polygon points="418.5,264.5 419.2,260.2 421.1,260.9" fill="#353535"/>
<polygon points="414.6,269.2 418.5,259.8 420.3,260.7" fill="#353535"/>
<polygon points="412.1,258.2 416.1,255.8 416.8,257.7" fill="#353535"/>
<polygon points="405.3,249.2 416.7,251.8 416.1,253.7" fill="#353535"/>
<polygon points="413.9,244.6 419.1,249.2 417.6,250.5" fill="#353535"/>
<polygon points="418.7,244.2 421.3,248.4 419.3,249.1" fill="#353535"/>
<polygon points="430.8,243.1 427.0,250.2 425.4,249.0" fill="#353535"/>
<polygon points="432.8,250.9 428.8,253.5 428.0,251.5" fill="#353535"/>
<circle cx="302.0" cy="267.2" r="7.55" fill="#2e2e2e"/>
<circle cx="302.2" cy="270.7" r="4.00" fill="#303030"/>
<circle cx="305.7" cy="268.7" r="4.01" fill="#303030"/>
<circle cx="300.8" cy="270.5" r="3.45" fill="#303030"/>
<circle cx="305.8" cy="266.6" r="4.17" fill="#303030"/>
<polygon points="316.6,266.5 308.4,267.9 308.3,265.9" fill="#353535"/>
<polygon points="314.1,271.8 307.6,270.4 308.3,268.5" fill="#353535"/>
<polygon points="310.6,279.1 304.9,273.0 306.6,271.8" fill="#353535"/>
<polygon points="296.8,281.4 298.9,272.8 300.8,273.5" fill="#353535"/>
<polygon points="292.5,274.9 296.5,270.4 297.7,272.0" fill="#353535"/>
<polygon points="289.4,274.6 296.0,269.5 297.1,271.3" fill="#353535"/>
<polygon points="287.7,263.1 296.2,264.5 295.7,266.5" fill="#353535"/>
<polygon points="291.3,256.3 298.3,262.0 296.9,263.4" fill="#353535"/>
<polygon points="301.5,249.8 302.9,260.9 300.8,260.9" fill="#353535"/>
<polygon points="306.6,254.0 305.1,261.6 303.1,260.9" fill="#353535"/>
<polygon points="313.3,262.4 308.3,265.7 307.4,263.8" fill="#353535"/>
<circle cx="322.1" cy="268.5" r="7.55" fill="#2e2e2e"/>
<circle cx="325.2" cy="271.2" r="3.53" fill="#303030"/>
<circle cx="322.8" cy="263.3" r="3.87" fill="#303030"/>
<circle cx="324.6" cy="271.1" r="3.77" fill="#303030"/>
<circle cx="325.9" cy="270.7" r="4.27" fill="#303030"/>
<polygon points="333.1,267.1 328.5,268.7 328.3,266.7" fill="#353535"/>
<polygon points="330.7,275.3 326.4,273.2 327.7,271.6" fill="#353535"/>
<polygon points="329.1,279.1 324.7,274.3 326.4,273.2" fill="#353535"/>
<polygon points="321.2,279.8 320.6,274.7 322.6,274.9" fill="#353535"/>
<polygon points="314.0,278.6 317.4,272.8 318.9,274.1" fill="#353535"/>
<polygon points="307.5,270.8 315.7,268.5 316.0,270.5" fill="#353535"/>
<polygon points="308.4,261.3 317.0,264.6 316.0,266.4" fill="#353535"/>
<polygon points="313.9,256.0 319.5,262.6 317.8,263.8" fill="#353535"/>
<polygon points="319.2,252.0 322.0,262.1 320.0,262.4" fill="#353535"/>
<polygon points="330.7,252.9 326.1,263.4 324.3,262.4" fill="#353535"/>
<polygon points="336.3,261.5 328.2,266.6 327.3,264.8" fill="#353535"/>
<circle cx="343.4" cy="271.0" r="7.55" fill="#2e2e2e"/>
<circle cx="342.8" cy="276.2" r="3.98" fill="#303030"/>
<circle cx="345.9" cy="273.6" r="3.65" fill="#303030"/>
<circle cx="343.0" cy="275.9" r="3.83" fill="#303030"/>
<circle cx="348.2" cy="273.0" r="4.24" fill="#303030"/>
<polygon points="354.1,268.4 349.8,270.5 349.4,268.5" fill="#353535"/>
<polygon points="355.7,276.0 348.9,274.3 349.7,272.4" fill="#353535"/>
<polygon points="347.8,288.2 344.0,277.4 346.0,276.9" fill="#353535"/>
<polygon points="341.0,283.1 341.2,277.0 343.2,277.4" fill="#353535"/>
<polygon points="335.1,281.4 338.7,275.3 340.2,276.6" fill="#353535"/>
<polygon points="333.5,274.9 337.2,272.3 337.9,274.2" fill="#353535"/>
<polygon points="327.5,265.6 337.8,268.0 337.1,269.9" fill="#353535"/>
<polygon points="337.0,261.7 340.7,265.2 339.0,266.3" fill="#353535"/>
<polygon points="341.9,259.2 343.6,264.6 341.6,264.8" fill="#353535"/>
<polygon points="350.5,259.0 347.5,266.1 345.8,265.0" fill="#353535"/>
<polygon points="359.0,265.3 349.7,269.8 349.0,267.8" fill="#353535"/>
<circle cx="364.8" cy="277.3" r="8.20" fill="#2e2e2e"/>
<circle cx="368.0" cy="280.3" r="5.19" fill="#303030"/>
<circle cx="360.1" cy="278.4" r="4.41" fill="#303030"/>
<circle cx="365.4" cy="271.3" r="4.56" fill="#303030"/>
<circle cx="369.8" cy="276.3" r="3.86" fill="#303030"/>
<polygon points="379.5,279.6 371.4,279.4 371.7,277.2" fill="#353535"/>
<polygon points="383.1,283.9 370.8,280.6 371.6,278.6" fill="#353535"/>
<polygon points="374.7,290.0 368.1,283.4 369.9,282.0" fill="#353535"/>
<polygon points="362.3,295.8 362.7,283.9 364.9,284.2" fill="#353535"/>
<polygon points="356.6,287.7 359.7,282.0 361.4,283.4" fill="#353535"/>
<polygon points="352.6,282.3 358.0,278.9 358.8,280.9" fill="#353535"/>
<polygon points="351.1,272.8 358.6,274.1 357.9,276.2" fill="#353535"/>
<polygon points="357.3,266.1 361.9,270.9 360.0,272.2" fill="#353535"/>
<polygon points="361.8,264.1 364.4,270.3 362.2,270.8" fill="#353535"/>
<polygon points="376.2,262.9 369.9,272.6 368.2,271.2" fill="#353535"/>
<polygon points="380.0,270.9 371.5,275.6 370.7,273.6" fill="#353535"/>
<circle cx="387.3" cy="277.3" r="8.20" fill="#2e2e2e"/>
<circle cx="384.1" cy="279.6" r="5.05" fill="#303030"/>
<circle cx="383.6" cy="277.5" r="3.97" fill="#303030"/>
<circle cx="391.8" cy="280.4" r="5.17" fill="#303030"/>
<circle cx="389.1" cy="282.6" r="4.22" fill="#303030"/>
<polygon points="405.8,279.0 394.1,279.0 394.3,276.8" fill="#353535"/>
<polygon points="401.9,287.9 392.2,282.2 393.5,280.4" fill="#353535"/>
<polygon points="392.8,287.5 389.6,283.9 391.6,282.8" fill="#353535"/>
<polygon points="384.9,293.4 385.2,283.9 387.4,284.2" fill="#353535"/>
<polygon points="379.6,289.7 382.8,282.5 384.6,283.7" fill="#353535"/>
<polygon points="376.5,281.6 380.5,278.8 381.3,280.8" fill="#353535"/>
<polygon points="373.0,274.5 380.8,274.9 380.4,277.0" fill="#353535"/>
<polygon points="375.9,264.4 383.6,271.4 381.9,272.9" fill="#353535"/>
<polygon points="383.6,258.1 387.1,270.3 384.9,270.7" fill="#353535"/>
<polygon points="397.9,261.4 392.1,272.1 390.2,270.9" fill="#353535"/>
<polygon points="402.4,269.5 394.0,275.1 392.9,273.1" fill="#353535"/>
<circle cx="408.7" cy="274.8" r="8.63" fill="#2e2e2e"/>
<circle cx="402.9" cy="273.4" r="4.51" fill="#303030"/>
<circle cx="404.0" cy="271.6" r="4.78" fill="#303030"/>
<circle cx="407.8" cy="278.7" r="4.03" fill="#303030"/>
<circle cx="405.3" cy="279.0" r="5.19" fill="#303030"/>
<polygon points="423.3,276.3 415.7,276.7 416.0,274.4" fill="#353535"/>
<polygon points="418.9,285.0 413.0,280.7 414.6,279.1" fill="#353535"/>
<polygon points="412.7,286.8 409.8,282.0 412.0,281.3" fill="#353535"/>
<polygon points="403.9,292.0 405.6,281.4 407.9,282.0" fill="#353535"/>
<polygon points="392.6,286.4 402.1,278.1 403.5,280.0" fill="#353535"/>
<polygon points="389.7,278.4 401.3,275.0 401.8,277.3" fill="#353535"/>
<polygon points="392.7,267.9 402.5,270.8 401.5,273.0" fill="#353535"/>
<polygon points="396.1,264.0 403.9,269.1 402.4,270.9" fill="#353535"/>
<polygon points="409.4,260.6 410.2,267.6 407.9,267.5" fill="#353535"/>
<polygon points="419.0,261.6 414.1,269.8 412.2,268.3" fill="#353535"/>
<polygon points="418.5,267.7 415.2,271.5 413.9,269.6" fill="#353535"/>
<circle cx="425.0" cy="274.8" r="6.47" fill="#2e2e2e"/>
<circle cx="422.5" cy="276.8" r="3.76" fill="#303030"/>
<circle cx="428.7" cy="272.0" r="3.71" fill="#303030"/>
<circle cx="422.6" cy="276.8" r="3.80" fill="#303030"/>
<circle cx="420.9" cy="273.3" r="3.40" fill="#303030"/>
<polygon points="435.2,276.8 430.1,276.7 430.5,274.9" fill="#353535"/>
<polygon points="434.6,279.7 429.4,278.0 430.2,276.5" fill="#353535"/>
<polygon points="430.3,288.6 426.1,280.1 427.7,279.5" fill="#353535"/>
<polygon points="425.3,287.9 424.2,280.2 426.0,280.2" fill="#353535"/>
<polygon points="417.1,281.7 420.3,277.7 421.5,279.0" fill="#353535"/>
<polygon points="413.8,280.9 419.8,276.6 420.6,278.1" fill="#353535"/>
<polygon points="411.7,268.3 420.5,271.6 419.7,273.2" fill="#353535"/>
<polygon points="418.3,265.0 422.6,269.8 421.2,270.8" fill="#353535"/>
<polygon points="422.7,262.5 424.9,269.3 423.1,269.6" fill="#353535"/>
<polygon points="431.5,265.9 428.9,270.9 427.5,269.9" fill="#353535"/>
<polygon points="435.1,266.6 429.7,272.0 428.6,270.7" fill="#353535"/>
<circle cx="302.0" cy="289.8" r="8.20" fill="#2e2e2e"/>
<circle cx="306.1" cy="288.9" r="3.74" fill="#303030"/>
<circle cx="305.8" cy="293.2" r="4.68" fill="#303030"/>
<circle cx="303.7" cy="293.6" r="4.66" fill="#303030"/>
<circle cx="298.8" cy="285.5" r="4.88" fill="#303030"/>
<polygon points="317.1,286.4 309.0,289.4 308.5,287.2" fill="#353535"/>
<polygon points="316.3,302.8 306.4,295.3 307.9,293.6" fill="#353535"/>
<polygon points="311.2,305.8 304.5,296.3 306.4,295.2" fill="#353535"/>
<polygon points="298.0,308.4 299.5,296.3 301.6,296.8" fill="#353535"/>
<polygon points="292.6,304.2 297.3,295.0 299.2,296.2" fill="#353535"/>
<polygon points="286.8,291.6 295.1,289.5 295.3,291.7" fill="#353535"/>
<polygon points="289.0,288.7 295.3,288.1 295.1,290.3" fill="#353535"/>
<polygon points="292.6,282.1 297.4,284.6 296.0,286.3" fill="#353535"/>
<polygon points="296.9,274.1 300.9,282.9 298.8,283.6" fill="#353535"/>
<polygon points="306.1,272.6 304.7,283.4 302.5,282.9" fill="#353535"/>
<polygon points="318.4,281.9 308.7,287.8 307.7,285.8" fill="#353535"/>
<circle cx="324.6" cy="292.3" r="8.20" fill="#2e2e2e"/>
<circle cx="326.4" cy="287.2" r="5.20" fill="#303030"/>
<circle cx="329.7" cy="290.9" r="5.27" fill="#303030"/>
<circle cx="327.8" cy="294.7" r="3.80" fill="#303030"/>
<circle cx="325.9" cy="296.8" r="4.44" fill="#303030"/>
<polygon points="342.1,293.9 331.4,294.0 331.6,291.8" fill="#353535"/>
<polygon points="338.4,297.6 330.7,295.8 331.4,293.7" fill="#353535"/>
<polygon points="330.4,305.7 326.3,299.1 328.4,298.2" fill="#353535"/>
<polygon points="325.4,308.7 323.8,299.2 326.1,299.1" fill="#353535"/>
<polygon points="314.3,305.9 319.6,297.1 321.3,298.5" fill="#353535"/>
<polygon points="306.0,297.8 317.7,293.2 318.3,295.3" fill="#353535"/>
<polygon points="314.1,286.4 319.1,288.0 318.1,289.9" fill="#353535"/>
<polygon points="315.0,277.8 321.7,286.0 319.9,287.2" fill="#353535"/>
<polygon points="321.6,280.3 324.0,285.4 321.9,285.9" fill="#353535"/>
<polygon points="330.5,279.2 328.4,286.5 326.4,285.6" fill="#353535"/>
<polygon points="341.7,284.0 331.3,290.3 330.3,288.3" fill="#353535"/>
<circle cx="349.7" cy="293.6" r="8.20" fill="#2e2e2e"/>
<circle cx="346.5" cy="296.5" r="4.51" fill="#303030"/>
<circle cx="347.9" cy="288.3" r="4.63" fill="#303030"/>
<circle cx="348.4" cy="297.9" r="5.08" fill="#303030"/>
<circle cx="345.9" cy="293.1" r="4.38" fill="#303030"/>
<polygon points="366.5,291.4 356.7,293.8 356.4,291.6" fill="#353535"/>
<polygon points="362.5,298.4 355.8,297.0 356.5,294.9" fill="#353535"/>
<polygon points="358.8,306.0 352.9,299.8 354.7,298.5" fill="#353535"/>
<polygon points="343.7,308.3 346.1,299.5 348.1,300.4" fill="#353535"/>
<polygon points="338.0,308.7 344.6,298.3 346.4,299.7" fill="#353535"/>
<polygon points="337.0,300.3 343.1,295.8 344.2,297.8" fill="#353535"/>
<polygon points="339.3,288.7 344.0,289.6 343.0,291.6" fill="#353535"/>
<polygon points="341.8,281.5 346.9,287.2 345.0,288.4" fill="#353535"/>
<polygon points="344.6,281.0 348.1,286.8 346.1,287.6" fill="#353535"/>
<polygon points="355.5,280.2 353.4,287.7 351.4,286.8" fill="#353535"/>
<polygon points="359.8,287.2 356.1,290.8 354.9,289.0" fill="#353535"/>
<circle cx="374.8" cy="296.1" r="8.20" fill="#2e2e2e"/>
<circle cx="376.0" cy="302.0" r="4.42" fill="#303030"/>
<circle cx="371.0" cy="296.8" r="4.15" fill="#303030"/>
<circle cx="380.0" cy="294.6" r="4.52" fill="#303030"/>
<circle cx="379.2" cy="297.6" r="4.97" fill="#303030"/>
<polygon points="391.1,295.5 381.7,297.0 381.6,294.7" fill="#353535"/>
<polygon points="386.8,307.8 378.9,301.7 380.5,300.1" fill="#353535"/>
<polygon points="378.9,307.1 376.2,302.9 378.3,302.1" fill="#353535"/>
<polygon points="376.5,313.8 374.3,303.0 376.5,302.8" fill="#353535"/>
<polygon points="363.2,310.7 369.6,300.8 371.4,302.2" fill="#353535"/>
<polygon points="355.9,298.4 367.8,295.8 368.1,298.0" fill="#353535"/>
<polygon points="355.6,291.7 368.3,293.5 367.8,295.6" fill="#353535"/>
<polygon points="364.4,280.4 371.9,289.7 370.1,291.0" fill="#353535"/>
<polygon points="369.2,279.1 373.7,289.2 371.6,289.9" fill="#353535"/>
<polygon points="382.2,278.1 378.4,290.1 376.4,289.3" fill="#353535"/>
<polygon points="387.4,291.9 381.7,294.9 381.0,292.8" fill="#353535"/>
<circle cx="397.4" cy="297.3" r="7.77" fill="#2e2e2e"/>
<circle cx="393.7" cy="299.3" r="4.23" fill="#303030"/>
<circle cx="396.2" cy="302.2" r="3.69" fill="#303030"/>
<circle cx="399.6" cy="301.3" r="3.61" fill="#303030"/>
<circle cx="393.3" cy="301.1" r="4.87" fill="#303030"/>
<polygon points="408.3,295.7 404.0,297.4 403.7,295.3" fill="#353535"/>
<polygon points="411.0,309.6 401.5,302.5 402.9,300.9" fill="#353535"/>
<polygon points="401.8,308.4 398.8,303.8 400.8,303.0" fill="#353535"/>
<polygon points="397.2,315.4 396.2,303.8 398.3,303.9" fill="#353535"/>
<polygon points="388.4,304.0 391.5,300.4 392.8,302.1" fill="#353535"/>
<polygon points="384.5,303.4 391.0,299.2 391.9,301.1" fill="#353535"/>
<polygon points="380.9,294.5 391.1,295.2 390.8,297.3" fill="#353535"/>
<polygon points="385.5,285.3 393.5,292.0 392.0,293.4" fill="#353535"/>
<polygon points="392.7,283.2 396.3,290.8 394.3,291.5" fill="#353535"/>
<polygon points="407.5,284.5 402.2,292.9 400.6,291.6" fill="#353535"/>
<polygon points="405.7,289.1 402.8,293.5 401.3,292.0" fill="#353535"/>
<circle cx="419.9" cy="292.3" r="7.77" fill="#2e2e2e"/>
<circle cx="417.2" cy="288.9" r="4.07" fill="#303030"/>
<circle cx="415.1" cy="293.0" r="5.00" fill="#303030"/>
<circle cx="420.2" cy="297.1" r="3.90" fill="#303030"/>
<circle cx="415.0" cy="290.9" r="3.70" fill="#303030"/>
<polygon points="436.3,292.2 426.5,293.3 426.5,291.2" fill="#353535"/>
<polygon points="435.9,297.7 425.8,295.4 426.5,293.4" fill="#353535"/>
<polygon points="426.6,305.5 422.0,298.6 423.8,297.7" fill="#353535"/>
<polygon points="416.6,309.0 417.6,298.5 419.7,298.9" fill="#353535"/>
<polygon points="413.0,305.3 415.9,297.6 417.8,298.6" fill="#353535"/>
<polygon points="407.9,299.2 413.8,294.6 414.8,296.4" fill="#353535"/>
<polygon points="409.1,290.0 413.8,289.9 413.4,292.0" fill="#353535"/>
<polygon points="409.5,282.5 415.9,287.1 414.5,288.6" fill="#353535"/>
<polygon points="418.8,274.3 420.6,285.7 418.5,285.9" fill="#353535"/>
<polygon points="425.3,278.3 423.2,286.6 421.3,285.9" fill="#353535"/>
<polygon points="436.2,284.2 426.2,290.3 425.3,288.5" fill="#353535"/>
<circle cx="313.3" cy="309.4" r="7.12" fill="#2e2e2e"/>
<circle cx="318.4" cy="307.7" r="3.63" fill="#303030"/>
<circle cx="315.9" cy="313.9" r="3.31" fill="#303030"/>
<circle cx="308.8" cy="310.9" r="3.96" fill="#303030"/>
<circle cx="309.4" cy="312.7" r="3.63" fill="#303030"/>
<polygon points="329.2,309.8 319.3,310.5 319.3,308.6" fill="#353535"/>
<polygon points="324.9,314.1 318.5,312.5 319.2,310.8" fill="#353535"/>
<polygon points="319.2,322.1 314.9,315.2 316.7,314.4" fill="#353535"/>
<polygon points="313.4,322.6 312.4,315.4 314.3,315.3" fill="#353535"/>
<polygon points="308.3,318.7 309.6,314.2 311.3,315.1" fill="#353535"/>
<polygon points="303.1,313.3 307.4,310.6 308.1,312.4" fill="#353535"/>
<polygon points="303.0,303.5 308.6,305.6 307.7,307.2" fill="#353535"/>
<polygon points="301.9,298.8 309.6,304.6 308.3,306.0" fill="#353535"/>
<polygon points="313.1,297.5 314.2,303.4 312.2,303.4" fill="#353535"/>
<polygon points="321.4,297.4 317.5,305.0 315.9,303.9" fill="#353535"/>
<polygon points="325.0,300.9 318.7,306.7 317.6,305.1" fill="#353535"/>
<circle cx="337.2" cy="310.4" r="7.12" fill="#2e2e2e"/>
<circle cx="337.3" cy="314.1" r="4.45" fill="#303030"/>
<circle cx="332.4" cy="312.3" r="3.46" fill="#303030"/>
<circle cx="339.3" cy="312.9" r="4.26" fill="#303030"/>
<circle cx="334.2" cy="309.2" r="3.27" fill="#303030"/>
<polygon points="350.5,312.6 342.9,312.3 343.2,310.4" fill="#353535"/>
<polygon points="344.6,317.4 340.8,315.2 342.2,313.8" fill="#353535"/>
<polygon points="341.2,320.4 338.5,316.3 340.3,315.6" fill="#353535"/>
<polygon points="333.6,324.2 334.7,315.9 336.6,316.4" fill="#353535"/>
<polygon points="329.1,318.7 332.3,314.0 333.7,315.3" fill="#353535"/>
<polygon points="326.4,311.0 331.1,309.8 331.3,311.7" fill="#353535"/>
<polygon points="322.4,309.4 331.3,309.0 331.1,310.9" fill="#353535"/>
<polygon points="328.9,304.0 333.0,306.0 331.8,307.5" fill="#353535"/>
<polygon points="334.8,296.0 337.1,304.3 335.2,304.6" fill="#353535"/>
<polygon points="346.0,298.1 341.4,306.1 339.9,305.0" fill="#353535"/>
<polygon points="347.4,300.1 342.1,306.8 340.7,305.5" fill="#353535"/>
<circle cx="363.5" cy="310.4" r="6.90" fill="#2e2e2e"/>
<circle cx="365.4" cy="307.6" r="4.15" fill="#303030"/>
<circle cx="363.3" cy="314.1" r="3.11" fill="#303030"/>
<circle cx="363.7" cy="306.2" r="4.35" fill="#303030"/>
<circle cx="360.2" cy="311.1" r="3.41" fill="#303030"/>
<polygon points="379.6,308.5 369.4,310.6 369.1,308.8" fill="#353535"/>
<polygon points="372.9,314.6 368.4,313.6 369.2,311.9" fill="#353535"/>
<polygon points="368.4,319.3 365.5,315.9 367.1,315.0" fill="#353535"/>
<polygon points="362.0,324.3 362.0,316.0 363.8,316.2" fill="#353535"/>
<polygon points="355.8,318.0 358.7,313.8 360.0,315.1" fill="#353535"/>
<polygon points="351.8,316.2 357.9,312.1 358.7,313.8" fill="#353535"/>
<polygon points="351.7,305.7 358.5,307.4 357.8,309.1" fill="#353535"/>
<polygon points="353.5,297.9 360.6,305.3 359.1,306.5" fill="#353535"/>
<polygon points="359.9,299.4 362.6,304.6 360.8,305.2" fill="#353535"/>
<polygon points="369.0,298.2 366.7,305.5 365.0,304.7" fill="#353535"/>
<polygon points="376.1,305.5 369.2,309.1 368.6,307.4" fill="#353535"/>
<circle cx="297.0" cy="307.4" r="5.61" fill="#2e2e2e"/>
<circle cx="295.3" cy="304.6" r="3.40" fill="#303030"/>
<circle cx="298.6" cy="304.8" r="2.65" fill="#303030"/>
<circle cx="296.8" cy="310.5" r="3.52" fill="#303030"/>
<circle cx="296.7" cy="310.9" r="3.24" fill="#303030"/>
<polygon points="305.3,309.3 301.4,309.2 301.8,307.7" fill="#353535"/>
<polygon points="304.4,313.7 300.1,311.0 301.1,309.8" fill="#353535"/>
<polygon points="303.7,316.6 299.2,311.6 300.4,310.7" fill="#353535"/>
<polygon points="293.6,317.9 294.8,311.6 296.3,312.1" fill="#353535"/>
<polygon points="290.8,319.1 294.1,311.2 295.5,311.9" fill="#353535"/>
<polygon points="286.3,311.2 292.3,308.2 292.8,309.7" fill="#353535"/>
<polygon points="288.4,303.8 293.0,304.8 292.4,306.2" fill="#353535"/>
<polygon points="290.3,300.3 294.3,303.4 293.2,304.5" fill="#353535"/>
<polygon points="294.2,299.6 296.1,302.7 294.7,303.2" fill="#353535"/>
<polygon points="302.2,298.6 300.1,303.7 298.8,302.9" fill="#353535"/>
<polygon points="304.6,304.3 301.7,306.3 301.1,304.9" fill="#353535"/>
<circle cx="388.6" cy="312.4" r="6.47" fill="#2e2e2e"/>
<circle cx="387.6" cy="315.5" r="4.13" fill="#303030"/>
<circle cx="389.8" cy="307.9" r="3.57" fill="#303030"/>
<circle cx="391.5" cy="314.7" r="3.21" fill="#303030"/>
<circle cx="392.5" cy="313.1" r="3.29" fill="#303030"/>
<polygon points="400.7,310.0 394.1,312.2 393.7,310.5" fill="#353535"/>
<polygon points="399.3,323.1 391.8,316.9 393.0,315.6" fill="#353535"/>
<polygon points="392.8,321.2 390.1,317.7 391.7,316.9" fill="#353535"/>
<polygon points="385.9,321.8 386.3,317.4 387.9,317.9" fill="#353535"/>
<polygon points="382.2,319.5 384.3,315.8 385.6,317.0" fill="#353535"/>
<polygon points="376.0,312.9 383.1,311.7 383.2,313.5" fill="#353535"/>
<polygon points="378.1,309.7 383.6,310.2 383.1,311.9" fill="#353535"/>
<polygon points="378.8,300.5 385.8,307.6 384.5,308.7" fill="#353535"/>
<polygon points="386.7,302.1 388.5,306.9 386.8,307.2" fill="#353535"/>
<polygon points="394.9,298.8 391.7,307.8 390.1,307.1" fill="#353535"/>
<polygon points="399.2,304.6 393.5,309.9 392.5,308.5" fill="#353535"/>
<circle cx="409.9" cy="310.4" r="6.47" fill="#2e2e2e"/>
<circle cx="413.0" cy="308.6" r="3.96" fill="#303030"/>
<circle cx="406.8" cy="309.8" r="2.98" fill="#303030"/>
<circle cx="413.5" cy="309.0" r="3.49" fill="#303030"/>
<circle cx="413.4" cy="308.4" r="3.56" fill="#303030"/>
<polygon points="423.7,308.9 415.4,310.7 415.2,308.9" fill="#353535"/>
<polygon points="420.8,315.6 414.4,313.5 415.2,311.9" fill="#353535"/>
<polygon points="413.7,322.8 410.7,315.8 412.4,315.3" fill="#353535"/>
<polygon points="410.3,320.7 409.3,315.8 411.0,315.8" fill="#353535"/>
<polygon points="399.9,319.9 405.4,313.5 406.6,314.8" fill="#353535"/>
<polygon points="396.2,317.6 404.7,312.1 405.5,313.7" fill="#353535"/>
<polygon points="399.8,309.3 404.6,309.0 404.4,310.7" fill="#353535"/>
<polygon points="400.4,303.1 406.1,306.4 405.1,307.8" fill="#353535"/>
<polygon points="408.7,295.8 410.3,304.9 408.6,305.0" fill="#353535"/>
<polygon points="413.4,297.3 412.2,305.4 410.5,304.9" fill="#353535"/>
<polygon points="419.1,301.5 414.4,307.2 413.2,306.0" fill="#353535"/>
<circle cx="426.2" cy="308.6" r="6.04" fill="#2e2e2e"/>
<circle cx="426.2" cy="312.0" r="2.78" fill="#303030"/>
<circle cx="425.7" cy="305.7" r="3.64" fill="#303030"/>
<circle cx="424.3" cy="311.9" r="3.49" fill="#303030"/>
<circle cx="421.9" cy="308.9" r="3.83" fill="#303030"/>
<polygon points="436.6,307.5 431.3,308.9 431.2,307.3" fill="#353535"/>
<polygon points="432.9,315.0 429.3,312.7 430.5,311.5" fill="#353535"/>
<polygon points="431.2,318.4 427.8,313.5 429.2,312.8" fill="#353535"/>
<polygon points="422.8,317.2 423.6,313.0 425.1,313.6" fill="#353535"/>
<polygon points="416.9,317.8 422.0,311.6 423.2,312.8" fill="#353535"/>
<polygon points="417.9,310.1 421.1,308.7 421.4,310.3" fill="#353535"/>
<polygon points="417.2,303.6 422.2,305.4 421.4,306.9" fill="#353535"/>
<polygon points="419.8,297.9 424.3,303.8 422.9,304.7" fill="#353535"/>
<polygon points="423.8,295.3 426.1,303.5 424.5,303.8" fill="#353535"/>
<polygon points="431.4,299.5 429.4,304.6 428.0,303.8" fill="#353535"/>
<polygon points="436.6,303.6 431.1,307.1 430.4,305.7" fill="#353535"/>
</g>
<g filter="url(#b05)">
<polygon points="311.8,212.9 311.0,224.3 309.6,224.1" fill="#3a3a3a"/>
<polygon points="309.7,214.6 310.3,224.1 308.9,224.1" fill="#3a3a3a"/>
<polygon points="309.8,214.4 310.4,224.1 308.9,224.1" fill="#3a3a3a"/>
<polygon points="298.4,222.2 305.4,226.0 304.6,227.2" fill="#3a3a3a"/>
<polygon points="320.0,218.0 313.8,226.0 312.7,225.0" fill="#3a3a3a"/>
<polygon points="325.1,222.5 314.8,228.0 314.3,226.7" fill="#3a3a3a"/>
<polygon points="332.5,222.7 331.5,228.9 330.3,228.6" fill="#3a3a3a"/>
<polygon points="330.2,222.8 330.5,228.6 329.3,228.5" fill="#3a3a3a"/>
<polygon points="323.5,225.0 327.3,229.1 326.3,229.9" fill="#3a3a3a"/>
<polygon points="327.4,219.2 329.5,228.5 328.3,228.7" fill="#3a3a3a"/>
<polygon points="333.7,221.3 331.8,229.0 330.6,228.6" fill="#3a3a3a"/>
<polygon points="328.3,221.8 329.7,228.5 328.5,228.7" fill="#3a3a3a"/>
<polygon points="357.6,221.2 348.4,225.7 347.9,224.5" fill="#3a3a3a"/>
<polygon points="338.1,216.1 341.8,222.2 340.6,222.8" fill="#3a3a3a"/>
<polygon points="330.5,219.6 339.3,223.9 338.7,225.1" fill="#3a3a3a"/>
<polygon points="352.9,218.2 347.6,224.1 346.7,223.1" fill="#3a3a3a"/>
<polygon points="351.5,219.6 347.6,224.1 346.7,223.1" fill="#3a3a3a"/>
<polygon points="354.5,219.5 348.1,224.7 347.3,223.6" fill="#3a3a3a"/>
<polygon points="358.9,210.5 361.5,217.3 360.0,217.7" fill="#3a3a3a"/>
<polygon points="371.1,211.9 366.5,219.1 365.3,218.1" fill="#3a3a3a"/>
<polygon points="354.7,206.2 360.6,217.5 359.1,218.2" fill="#3a3a3a"/>
<polygon points="350.8,214.8 357.9,219.1 357.0,220.4" fill="#3a3a3a"/>
<polygon points="346.8,214.8 357.4,219.8 356.6,221.1" fill="#3a3a3a"/>
<polygon points="364.3,207.9 363.8,217.5 362.2,217.3" fill="#3a3a3a"/>
<polygon points="380.4,206.5 377.8,212.0 376.7,211.4" fill="#3a3a3a"/>
<polygon points="364.9,208.5 371.3,212.4 370.6,213.4" fill="#3a3a3a"/>
<polygon points="366.8,203.2 372.8,211.4 371.7,212.1" fill="#3a3a3a"/>
<polygon points="368.0,202.9 373.1,211.3 372.0,211.8" fill="#3a3a3a"/>
<polygon points="371.0,201.9 374.1,211.0 372.9,211.3" fill="#3a3a3a"/>
<polygon points="362.4,207.3 371.2,212.6 370.5,213.6" fill="#3a3a3a"/>
<polygon points="382.2,217.6 388.6,225.9 387.4,226.7" fill="#3a3a3a"/>
<polygon points="385.3,220.2 389.1,225.7 387.8,226.4" fill="#3a3a3a"/>
<polygon points="393.5,218.0 392.8,225.6 391.4,225.3" fill="#3a3a3a"/>
<polygon points="386.6,217.3 390.1,225.4 388.7,225.9" fill="#3a3a3a"/>
<polygon points="390.3,216.0 391.5,225.3 390.1,225.4" fill="#3a3a3a"/>
<polygon points="382.3,221.8 387.8,226.4 386.8,227.4" fill="#3a3a3a"/>
<polygon points="426.1,231.4 420.3,239.0 418.9,237.8" fill="#3a3a3a"/>
<polygon points="426.2,225.5 419.3,238.1 417.8,237.1" fill="#3a3a3a"/>
<polygon points="433.1,233.4 421.4,240.9 420.5,239.3" fill="#3a3a3a"/>
<polygon points="411.9,228.3 414.4,236.5 412.7,236.9" fill="#3a3a3a"/>
<polygon points="429.5,236.0 421.4,241.1 420.6,239.5" fill="#3a3a3a"/>
<polygon points="403.5,226.5 411.8,237.2 410.3,238.2" fill="#3a3a3a"/>
<polygon points="293.7,236.8 297.6,242.3 296.4,243.0" fill="#3a3a3a"/>
<polygon points="289.0,241.1 295.4,244.0 294.7,245.2" fill="#3a3a3a"/>
<polygon points="310.0,237.6 303.8,244.2 302.9,243.2" fill="#3a3a3a"/>
<polygon points="309.6,240.5 304.2,244.9 303.4,243.8" fill="#3a3a3a"/>
<polygon points="292.4,235.9 297.3,242.5 296.2,243.2" fill="#3a3a3a"/>
<polygon points="290.4,238.1 296.4,243.1 295.4,244.0" fill="#3a3a3a"/>
<polygon points="301.6,240.3 309.1,245.3 308.2,246.5" fill="#3a3a3a"/>
<polygon points="328.6,242.7 319.1,247.9 318.4,246.5" fill="#3a3a3a"/>
<polygon points="315.9,236.2 315.2,243.9 313.7,243.6" fill="#3a3a3a"/>
<polygon points="296.4,242.5 308.1,246.6 307.5,248.0" fill="#3a3a3a"/>
<polygon points="324.9,243.8 319.0,247.6 318.3,246.2" fill="#3a3a3a"/>
<polygon points="312.4,232.4 313.8,243.6 312.2,243.7" fill="#3a3a3a"/>
<polygon points="345.7,243.4 339.2,246.9 338.7,245.4" fill="#3a3a3a"/>
<polygon points="343.0,232.9 337.2,243.7 335.9,242.9" fill="#3a3a3a"/>
<polygon points="341.5,232.7 336.8,243.4 335.4,242.7" fill="#3a3a3a"/>
<polygon points="327.3,232.6 332.0,242.5 330.5,243.1" fill="#3a3a3a"/>
<polygon points="345.2,238.6 338.5,245.2 337.5,244.0" fill="#3a3a3a"/>
<polygon points="345.7,237.8 338.4,245.1 337.4,243.9" fill="#3a3a3a"/>
<polygon points="346.9,226.2 350.1,234.5 348.8,234.9" fill="#3a3a3a"/>
<polygon points="338.8,232.1 346.9,236.4 346.2,237.5" fill="#3a3a3a"/>
<polygon points="362.5,230.4 355.4,237.0 354.6,235.9" fill="#3a3a3a"/>
<polygon points="358.3,227.7 354.2,235.6 353.1,234.9" fill="#3a3a3a"/>
<polygon points="359.2,231.7 355.1,236.5 354.2,235.6" fill="#3a3a3a"/>
<polygon points="338.1,233.7 346.6,236.9 346.0,238.1" fill="#3a3a3a"/>
<polygon points="346.4,257.4 353.3,255.9 353.5,257.2" fill="#3a3a3a"/>
<polygon points="354.2,243.1 357.5,250.9 356.2,251.3" fill="#3a3a3a"/>
<polygon points="346.6,245.5 355.1,252.1 354.2,253.1" fill="#3a3a3a"/>
<polygon points="358.1,267.0 357.6,261.0 359.0,261.1" fill="#3a3a3a"/>
<polygon points="353.9,269.7 356.2,260.6 357.5,261.0" fill="#3a3a3a"/>
<polygon points="362.0,267.3 359.3,261.0 360.6,260.6" fill="#3a3a3a"/>
<polygon points="382.9,235.2 380.2,244.4 378.7,243.8" fill="#3a3a3a"/>
<polygon points="370.3,234.3 375.5,243.9 374.1,244.5" fill="#3a3a3a"/>
<polygon points="374.2,232.2 377.0,243.6 375.5,243.9" fill="#3a3a3a"/>
<polygon points="389.2,240.2 382.5,246.6 381.5,245.3" fill="#3a3a3a"/>
<polygon points="371.3,237.4 375.4,243.9 374.0,244.6" fill="#3a3a3a"/>
<polygon points="390.1,237.1 382.1,246.0 381.0,244.9" fill="#3a3a3a"/>
<polygon points="395.4,239.2 399.2,251.2 397.7,251.6" fill="#3a3a3a"/>
<polygon points="397.6,270.9 398.1,263.0 399.6,263.2" fill="#3a3a3a"/>
<polygon points="386.1,261.6 393.9,258.3 394.4,259.8" fill="#3a3a3a"/>
<polygon points="403.3,272.1 400.5,263.2 402.0,262.9" fill="#3a3a3a"/>
<polygon points="388.7,246.0 396.2,252.4 395.1,253.5" fill="#3a3a3a"/>
<polygon points="392.7,273.6 396.8,262.4 398.2,263.0" fill="#3a3a3a"/>
<polygon points="437.9,252.9 428.5,254.8 428.3,253.2" fill="#3a3a3a"/>
<polygon points="434.1,260.6 427.4,258.1 428.2,256.7" fill="#3a3a3a"/>
<polygon points="431.6,245.3 427.2,250.9 426.1,249.8" fill="#3a3a3a"/>
<polygon points="418.3,238.9 421.7,248.7 420.2,249.1" fill="#3a3a3a"/>
<polygon points="416.1,271.1 419.6,260.0 421.0,260.6" fill="#3a3a3a"/>
<polygon points="436.0,256.3 428.3,256.2 428.5,254.6" fill="#3a3a3a"/>
<polygon points="289.6,270.9 296.1,268.2 296.5,269.7" fill="#3a3a3a"/>
<polygon points="308.9,254.7 305.6,262.3 304.2,261.6" fill="#3a3a3a"/>
<polygon points="310.3,277.4 305.2,272.4 306.4,271.4" fill="#3a3a3a"/>
<polygon points="291.3,256.0 298.5,262.3 297.3,263.4" fill="#3a3a3a"/>
<polygon points="290.5,255.0 298.5,262.3 297.4,263.4" fill="#3a3a3a"/>
<polygon points="308.6,249.8 304.9,261.9 303.4,261.3" fill="#3a3a3a"/>
<polygon points="316.5,255.6 320.4,262.7 319.0,263.3" fill="#3a3a3a"/>
<polygon points="308.4,270.6 316.1,268.6 316.3,270.2" fill="#3a3a3a"/>
<polygon points="337.8,269.5 328.0,269.7 328.1,268.1" fill="#3a3a3a"/>
<polygon points="319.0,254.9 321.5,262.5 320.0,262.8" fill="#3a3a3a"/>
<polygon points="320.0,283.3 320.5,274.3 322.0,274.5" fill="#3a3a3a"/>
<polygon points="316.9,253.4 320.9,262.6 319.4,263.1" fill="#3a3a3a"/>
<polygon points="330.3,259.5 339.4,266.5 338.4,267.6" fill="#3a3a3a"/>
<polygon points="329.6,281.9 338.2,274.1 339.2,275.3" fill="#3a3a3a"/>
<polygon points="354.5,263.6 348.8,268.3 348.0,267.0" fill="#3a3a3a"/>
<polygon points="359.1,263.9 349.2,269.2 348.6,267.8" fill="#3a3a3a"/>
<polygon points="354.1,282.3 347.0,275.9 348.1,274.8" fill="#3a3a3a"/>
<polygon points="330.5,258.0 339.8,266.2 338.7,267.3" fill="#3a3a3a"/>
<polygon points="352.1,289.6 359.5,281.2 360.7,282.4" fill="#3a3a3a"/>
<polygon points="378.7,264.1 370.1,273.4 368.9,272.2" fill="#3a3a3a"/>
<polygon points="380.7,271.4 371.2,275.8 370.6,274.2" fill="#3a3a3a"/>
<polygon points="355.9,264.8 361.7,271.5 360.3,272.5" fill="#3a3a3a"/>
<polygon points="361.4,258.3 364.4,270.7 362.8,271.0" fill="#3a3a3a"/>
<polygon points="353.0,262.8 361.3,271.7 360.0,272.7" fill="#3a3a3a"/>
<polygon points="391.9,296.6 388.0,283.8 389.6,283.4" fill="#3a3a3a"/>
<polygon points="407.5,274.8 393.9,277.3 393.7,275.6" fill="#3a3a3a"/>
<polygon points="368.7,272.9 381.2,274.9 380.8,276.6" fill="#3a3a3a"/>
<polygon points="378.8,295.3 383.8,282.8 385.3,283.5" fill="#3a3a3a"/>
<polygon points="397.3,264.5 392.0,272.7 390.7,271.6" fill="#3a3a3a"/>
<polygon points="401.9,285.6 392.6,281.2 393.4,279.8" fill="#3a3a3a"/>
<polygon points="389.7,268.5 402.4,271.8 401.9,273.5" fill="#3a3a3a"/>
<polygon points="393.8,275.9 401.8,274.4 401.9,276.2" fill="#3a3a3a"/>
<polygon points="414.1,260.7 412.0,268.7 410.3,268.1" fill="#3a3a3a"/>
<polygon points="413.5,259.7 411.6,268.5 409.9,268.0" fill="#3a3a3a"/>
<polygon points="398.4,292.1 404.4,280.2 405.9,281.1" fill="#3a3a3a"/>
<polygon points="418.6,286.9 412.3,280.6 413.7,279.5" fill="#3a3a3a"/>
<polygon points="410.3,273.2 419.9,273.6 419.8,274.9" fill="#3a3a3a"/>
<polygon points="432.8,262.4 428.3,270.8 427.1,270.1" fill="#3a3a3a"/>
<polygon points="437.7,270.2 430.0,273.7 429.6,272.4" fill="#3a3a3a"/>
<polygon points="435.8,271.2 430.1,273.8 429.6,272.5" fill="#3a3a3a"/>
<polygon points="427.4,288.3 425.2,279.9 426.5,279.7" fill="#3a3a3a"/>
<polygon points="421.3,289.1 423.0,279.6 424.3,279.9" fill="#3a3a3a"/>
<polygon points="290.9,276.5 298.5,284.3 297.2,285.4" fill="#3a3a3a"/>
<polygon points="311.8,275.2 306.4,284.9 304.9,283.9" fill="#3a3a3a"/>
<polygon points="295.8,305.0 298.8,295.5 300.4,296.1" fill="#3a3a3a"/>
<polygon points="313.2,273.4 306.4,284.9 305.0,284.0" fill="#3a3a3a"/>
<polygon points="307.1,308.7 302.9,296.3 304.5,295.9" fill="#3a3a3a"/>
<polygon points="319.1,286.4 308.6,289.4 308.2,287.7" fill="#3a3a3a"/>
<polygon points="310.9,285.6 319.2,288.7 318.4,290.2" fill="#3a3a3a"/>
<polygon points="307.8,288.5 318.5,290.0 318.1,291.7" fill="#3a3a3a"/>
<polygon points="313.5,283.6 320.0,287.7 319.0,289.0" fill="#3a3a3a"/>
<polygon points="341.6,289.0 331.2,291.9 330.8,290.2" fill="#3a3a3a"/>
<polygon points="309.0,303.5 318.8,295.4 319.8,296.8" fill="#3a3a3a"/>
<polygon points="308.8,285.7 318.9,289.0 318.3,290.6" fill="#3a3a3a"/>
<polygon points="344.5,280.2 348.1,287.2 346.6,287.8" fill="#3a3a3a"/>
<polygon points="333.5,289.6 343.6,291.2 343.2,292.8" fill="#3a3a3a"/>
<polygon points="369.0,288.2 356.2,292.6 355.7,291.0" fill="#3a3a3a"/>
<polygon points="347.7,310.5 348.1,299.9 349.8,300.1" fill="#3a3a3a"/>
<polygon points="361.4,305.6 353.6,298.8 354.9,297.6" fill="#3a3a3a"/>
<polygon points="357.7,275.4 353.1,288.0 351.5,287.3" fill="#3a3a3a"/>
<polygon points="358.9,298.4 368.2,296.2 368.5,297.9" fill="#3a3a3a"/>
<polygon points="381.3,312.9 376.3,302.5 377.9,301.8" fill="#3a3a3a"/>
<polygon points="388.0,289.4 381.0,293.9 380.2,292.4" fill="#3a3a3a"/>
<polygon points="377.4,282.2 376.8,289.8 375.1,289.5" fill="#3a3a3a"/>
<polygon points="380.1,310.6 376.2,302.5 377.8,301.9" fill="#3a3a3a"/>
<polygon points="368.6,281.3 373.1,289.8 371.5,290.4" fill="#3a3a3a"/>
<polygon points="386.9,310.8 392.9,301.7 394.2,302.7" fill="#3a3a3a"/>
<polygon points="411.4,308.2 401.7,301.7 402.7,300.5" fill="#3a3a3a"/>
<polygon points="409.1,308.8 401.2,302.2 402.3,301.1" fill="#3a3a3a"/>
<polygon points="397.3,311.8 396.5,303.5 398.2,303.5" fill="#3a3a3a"/>
<polygon points="381.7,294.3 391.5,295.4 391.2,297.0" fill="#3a3a3a"/>
<polygon points="386.2,308.4 392.4,301.1 393.6,302.2" fill="#3a3a3a"/>
<polygon points="406.0,289.7 414.0,290.4 413.7,292.0" fill="#3a3a3a"/>
<polygon points="424.8,308.7 420.9,298.5 422.5,298.0" fill="#3a3a3a"/>
<polygon points="409.3,279.7 416.6,287.1 415.4,288.1" fill="#3a3a3a"/>
<polygon points="430.0,278.6 424.3,287.8 423.0,286.9" fill="#3a3a3a"/>
<polygon points="429.1,280.8 424.4,288.0 423.1,287.0" fill="#3a3a3a"/>
<polygon points="418.9,274.1 420.4,286.1 418.8,286.2" fill="#3a3a3a"/>
<polygon points="324.7,301.4 318.4,306.7 317.5,305.5" fill="#3a3a3a"/>
<polygon points="306.4,325.3 310.4,314.3 311.8,314.9" fill="#3a3a3a"/>
<polygon points="316.9,326.8 313.7,315.1 315.2,314.8" fill="#3a3a3a"/>
<polygon points="323.1,301.0 318.1,306.3 317.1,305.1" fill="#3a3a3a"/>
<polygon points="314.4,325.6 313.0,315.1 314.4,315.0" fill="#3a3a3a"/>
<polygon points="312.6,322.0 312.3,315.0 313.7,315.1" fill="#3a3a3a"/>
<polygon points="344.3,297.8 340.6,305.8 339.3,305.1" fill="#3a3a3a"/>
<polygon points="340.3,298.0 339.3,305.1 337.8,304.7" fill="#3a3a3a"/>
<polygon points="324.0,319.6 332.1,313.0 333.0,314.2" fill="#3a3a3a"/>
<polygon points="350.3,311.9 342.7,311.7 342.9,310.3" fill="#3a3a3a"/>
<polygon points="330.0,294.6 335.5,304.9 334.2,305.5" fill="#3a3a3a"/>
<polygon points="349.7,307.9 342.8,310.0 342.5,308.5" fill="#3a3a3a"/>
<polygon points="347.6,309.8 358.1,309.5 358.0,310.9" fill="#3a3a3a"/>
<polygon points="348.0,310.1 358.0,309.6 358.0,311.0" fill="#3a3a3a"/>
<polygon points="368.0,321.6 364.9,315.7 366.2,315.2" fill="#3a3a3a"/>
<polygon points="372.9,317.8 367.4,314.3 368.2,313.2" fill="#3a3a3a"/>
<polygon points="349.7,305.7 358.5,308.0 358.1,309.3" fill="#3a3a3a"/>
<polygon points="352.1,305.1 358.8,307.4 358.2,308.7" fill="#3a3a3a"/>
<polygon points="301.2,316.9 298.3,311.7 299.3,311.2" fill="#3a3a3a"/>
<polygon points="304.5,295.6 299.9,303.9 298.9,303.3" fill="#3a3a3a"/>
<polygon points="305.9,302.9 301.3,305.9 300.7,304.9" fill="#3a3a3a"/>
<polygon points="309.8,312.6 300.9,309.6 301.4,308.5" fill="#3a3a3a"/>
<polygon points="284.4,310.4 292.6,307.9 292.8,309.0" fill="#3a3a3a"/>
<polygon points="291.6,317.7 294.4,311.0 295.5,311.6" fill="#3a3a3a"/>
<polygon points="375.4,311.1 383.5,311.2 383.4,312.6" fill="#3a3a3a"/>
<polygon points="379.7,305.8 384.8,308.8 384.1,309.9" fill="#3a3a3a"/>
<polygon points="383.9,297.7 387.7,307.3 386.4,307.7" fill="#3a3a3a"/>
<polygon points="394.2,324.5 390.1,317.3 391.3,316.8" fill="#3a3a3a"/>
<polygon points="387.7,299.3 388.9,307.2 387.6,307.3" fill="#3a3a3a"/>
<polygon points="392.6,323.5 389.7,317.4 391.0,317.0" fill="#3a3a3a"/>
<polygon points="398.9,309.5 404.8,309.3 404.7,310.6" fill="#3a3a3a"/>
<polygon points="421.8,301.0 414.4,307.7 413.5,306.7" fill="#3a3a3a"/>
<polygon points="405.6,295.5 409.1,305.3 407.8,305.6" fill="#3a3a3a"/>
<polygon points="400.9,300.9 406.9,306.2 405.9,307.1" fill="#3a3a3a"/>
<polygon points="398.9,302.4 406.1,306.8 405.4,307.9" fill="#3a3a3a"/>
<polygon points="425.0,308.7 415.1,310.5 414.9,309.2" fill="#3a3a3a"/>
<polygon points="425.5,323.3 425.3,313.4 426.6,313.4" fill="#3a3a3a"/>
<polygon points="425.7,294.6 426.7,303.8 425.4,303.9" fill="#3a3a3a"/>
<polygon points="431.1,297.4 428.7,304.5 427.5,304.0" fill="#3a3a3a"/>
<polygon points="437.8,299.8 430.4,306.2 429.7,305.2" fill="#3a3a3a"/>
<polygon points="421.5,295.5 425.2,303.9 424.0,304.3" fill="#3a3a3a"/>
<polygon points="427.4,296.4 427.3,303.9 426.1,303.8" fill="#3a3a3a"/>
</g>
<rect x="293" y="203" width="136" height="108" filter="url(#nz)" opacity="0.16" style="mix-blend-mode:overlay"/>
</g>
<rect x="397.6" y="204.8" width="30.00" height="22.10" fill="#fff"/>
<text x="412.60" y="220.40" font-family='"Liberation Sans", Arial, sans-serif' font-size="18.6" font-weight="bold" text-anchor="middle" fill="#000" textLength="25" lengthAdjust="spacingAndGlyphs">(d)</text>
<rect x="386.4" y="304.7" width="36.20" height="3.20" fill="#f7ee18"/>
<text x="374.20" y="300.70" font-family='"Liberation Sans", Arial, sans-serif' font-size="16.4" font-weight="bold" text-anchor="start" fill="#f7ee18" textLength="51.6" lengthAdjust="spacingAndGlyphs">200 nm</text>
</g>
<g id="panel-e">
<g clip-path="url(#clipE)">
<rect x="430" y="203" width="112" height="108" fill="#cacaca"/>
<ellipse cx="452" cy="266" rx="22" ry="14" fill="#b8b8b8" opacity="0.7" filter="url(#b4)"/>
<polygon points="430.0,202.0 448.3,202.0 430.0,220.3" fill="#a8a8a8" opacity="0.8" filter="url(#b4)"/>
<polygon points="529.8,202.0 544.1,202.0 544.1,259.0 535.9,242.7" fill="#5a5a5a" opacity="1.0" filter="url(#b4)"/>
<polygon points="536.9,202.0 544.1,202.0 544.1,226.4" fill="#7a7a7a" opacity="0.7" filter="url(#b2)"/>
<polygon points="431,279 455,282 480.4,286.2 492,296 480,312 447.6,311 431,302" fill="url(#espk)" filter="url(#b2)"/>
<polygon points="428,303.5 428,314 444,314" fill="#d0d0d0" filter="url(#b1)"/>
<polygon points="444.7,217.3 446.7,211.8 452.4,209.3 460.5,210.6 469.7,217.3 488.0,235.6 508.4,257.4 517.6,265.1 497.2,291.6 483.4,283.9 476.4,274.9 460.1,248.4 448.7,228.1" fill="#8e8e8e" opacity="1.0" filter="url(#b1)"/>
<polygon points="445.5,218.3 448.3,213.8 453.2,216.7 458.1,226.8 469.1,245.8 483.8,270.2 492.1,284.5 483.4,283.9 476.4,274.9 460.1,248.4 448.7,228.1" fill="#555555" opacity="0.95" filter="url(#b1)"/>
<polygon points="460.5,210.6 469.7,217.3 488.0,235.6 508.4,257.4 517.6,265.1 511.5,270.2 500.3,257.4 482.5,238.3 465.8,220.7 458.1,214.6" fill="#747474" opacity="0.8" filter="url(#b2)"/>
<polygon points="473.8,248.8 491.1,244.8 511.5,261.1 517.6,269.2 497.2,291.6 481.9,281.8" fill="#4a4a4a" opacity="0.9" filter="url(#b4)"/>
<polygon points="479.9,283.5 491.1,270.2 511.5,262.7 527.8,260.7 544.1,250.9 544.1,316.1 480.9,316.1 485.0,297.7" fill="#232323" opacity="1.0" filter="url(#b2)"/>
<polygon points="495.2,278.4 521.6,268.2 544.1,262.1 544.1,316.1 489.1,316.1" fill="#171717" opacity="1.0" filter="url(#b4)"/>
<rect x="431" y="203" width="110" height="108" filter="url(#nz)" opacity="0.13" style="mix-blend-mode:overlay"/>
</g>
<rect x="503.0" y="205.2" width="29.00" height="22.30" fill="#fff"/>
<text x="517.50" y="220.80" font-family='"Liberation Sans", Arial, sans-serif' font-size="18.6" font-weight="bold" text-anchor="middle" fill="#000" textLength="23" lengthAdjust="spacingAndGlyphs">(e)</text>
<rect x="521.0" y="304.2" width="17.80" height="3.00" fill="#f7ee18"/>
<text x="506.30" y="301.20" font-family='"Liberation Sans", Arial, sans-serif' font-size="16.0" font-weight="bold" text-anchor="start" fill="#f7ee18" textLength="34.3" lengthAdjust="spacingAndGlyphs">5 nm</text>
</g>
<g id="panel-f">
<g clip-path="url(#clipF)">
<rect x="293" y="312" width="249" height="157" fill="#a7a7a7"/>
<polygon points="287.5,390.2 337.5,372.0 382.9,355.6 428.4,339.3 473.8,322.9 501.1,307.5 546.5,307.5 546.5,425.6 482.9,430.2 428.4,434.7 360.2,441.5 287.5,444.3" fill="url(#fband)" opacity="1.0" filter="url(#b2)"/>
<polygon points="287.5,402.9 346.5,384.7 405.6,366.5 464.7,348.4 546.5,321.1 546.5,414.3 473.8,421.1 405.6,429.3 337.5,434.7 287.5,437.0" fill="url(#fband2)" opacity="0.7" filter="url(#b4)"/>
<ellipse cx="412" cy="388" rx="34" ry="15" transform="rotate(-17 412 388)" fill="#3e3e3e" opacity="0.8" filter="url(#b8)"/>
<polygon points="487.5,307.5 546.5,307.5 546.5,402.9 523.8,384.7 505.6,352.9" fill="#303030" opacity="1.0" filter="url(#b8)"/>
<polygon points="510.2,307.5 546.5,307.5 546.5,380.2 528.4,357.5" fill="#202020" opacity="1.0" filter="url(#b4)"/>
<rect x="293" y="420" width="249" height="50" fill="url(#fbot)"/>
<rect x="293" y="312" width="249" height="157" filter="url(#nzf)" opacity="0.22" style="mix-blend-mode:overlay"/>
<rect x="293" y="312" width="249" height="157" filter="url(#nz)" opacity="0.10" style="mix-blend-mode:overlay"/>
</g>
<rect x="298.9" y="322.0" width="29.20" height="22.50" fill="#fff"/>
<text x="312.10" y="337.60" font-family='"Liberation Sans", Arial, sans-serif' font-size="18.6" font-weight="bold" text-anchor="middle" fill="#000" textLength="18.5" lengthAdjust="spacingAndGlyphs">(f)</text>
<text x="401.40" y="369.20" font-family='"Liberation Sans", Arial, sans-serif' font-size="15.8" font-weight="bold" text-anchor="start" fill="#fff" textLength="87.2" lengthAdjust="spacingAndGlyphs">d<tspan font-size="10.6" dy="3.5">(200)</tspan><tspan dy="-3.5"> = 0.203</tspan></text>
<line x1="476.20" y1="377.80" x2="462.50" y2="418.00" stroke="#f4f4f4" stroke-width="0.8" />
<line x1="478.40" y1="378.40" x2="464.70" y2="418.60" stroke="#f4f4f4" stroke-width="0.8" />
<polygon points="430.24,387.41 449.95,394.12 448.86,397.33 460.20,393.80 453.37,384.08 452.27,387.30 432.56,380.59" fill="#fff" stroke="#e8201c" stroke-width="1.2" stroke-linejoin="miter"/>
<polygon points="508.06,403.90 488.98,399.20 489.80,395.90 478.80,400.40 486.45,409.49 487.26,406.19 506.34,410.90" fill="#fff" stroke="#e8201c" stroke-width="1.2" stroke-linejoin="miter"/>
<rect x="487.5" y="461.0" width="47.00" height="4.30" fill="#f7ee18"/>
<text x="487.00" y="458.30" font-family='"Liberation Sans", Arial, sans-serif' font-size="17.4" font-weight="bold" text-anchor="start" fill="#f7ee18" textLength="34.5" lengthAdjust="spacingAndGlyphs">4 nm</text>
</g>
<g id="panel-g">
<rect x="27.95" y="596.91" width="12.50" height="15.09" fill="#fb0d12" stroke="#fb0d12" stroke-width="0.4" stroke-opacity="0.6"/>
<line x1="34.20" y1="596.13" x2="34.20" y2="597.68" stroke="#000" stroke-width="1.0" />
<line x1="32.60" y1="596.13" x2="35.80" y2="596.13" stroke="#000" stroke-width="0.8" />
<line x1="32.60" y1="597.68" x2="35.80" y2="597.68" stroke="#000" stroke-width="0.8" />
<ellipse cx="34.20" cy="596.91" rx="1.4" ry="1.0" fill="#000"/>
<rect x="43.65" y="601.68" width="12.30" height="10.32" fill="#27b055" stroke="#27b055" stroke-width="0.4" stroke-opacity="0.6"/>
<line x1="49.80" y1="600.78" x2="49.80" y2="602.58" stroke="#000" stroke-width="1.0" />
<line x1="48.20" y1="600.78" x2="51.40" y2="600.78" stroke="#000" stroke-width="0.8" />
<line x1="48.20" y1="602.58" x2="51.40" y2="602.58" stroke="#000" stroke-width="0.8" />
<ellipse cx="49.80" cy="601.68" rx="1.4" ry="1.0" fill="#000"/>
<rect x="59.65" y="482.36" width="12.30" height="129.64" fill="#3e48d0" stroke="#3e48d0" stroke-width="0.4" stroke-opacity="0.6"/>
<line x1="65.80" y1="478.49" x2="65.80" y2="486.23" stroke="#000" stroke-width="1.0" />
<line x1="64.20" y1="478.49" x2="67.40" y2="478.49" stroke="#000" stroke-width="0.8" />
<line x1="64.20" y1="486.23" x2="67.40" y2="486.23" stroke="#000" stroke-width="0.8" />
<rect x="91.35" y="596.91" width="11.70" height="15.09" fill="#fb0d12" stroke="#fb0d12" stroke-width="0.4" stroke-opacity="0.6"/>
<line x1="97.20" y1="596.13" x2="97.20" y2="597.68" stroke="#000" stroke-width="1.0" />
<line x1="95.60" y1="596.13" x2="98.80" y2="596.13" stroke="#000" stroke-width="0.8" />
<line x1="95.60" y1="597.68" x2="98.80" y2="597.68" stroke="#000" stroke-width="0.8" />
<ellipse cx="97.20" cy="596.91" rx="1.4" ry="1.0" fill="#000"/>
<rect x="106.55" y="605.16" width="11.70" height="6.84" fill="#27b055" stroke="#27b055" stroke-width="0.4" stroke-opacity="0.6"/>
<line x1="112.40" y1="604.39" x2="112.40" y2="605.94" stroke="#000" stroke-width="1.0" />
<line x1="110.80" y1="604.39" x2="114.00" y2="604.39" stroke="#000" stroke-width="0.8" />
<line x1="110.80" y1="605.94" x2="114.00" y2="605.94" stroke="#000" stroke-width="0.8" />
<ellipse cx="112.40" cy="605.16" rx="1.4" ry="1.0" fill="#000"/>
<rect x="122.25" y="498.48" width="12.00" height="113.52" fill="#3e48d0" stroke="#3e48d0" stroke-width="0.4" stroke-opacity="0.6"/>
<line x1="128.25" y1="494.22" x2="128.25" y2="502.74" stroke="#000" stroke-width="1.0" />
<line x1="126.65" y1="494.22" x2="129.85" y2="494.22" stroke="#000" stroke-width="0.8" />
<line x1="126.65" y1="502.74" x2="129.85" y2="502.74" stroke="#000" stroke-width="0.8" />
<rect x="153.45" y="602.71" width="11.70" height="9.29" fill="#fb0d12" stroke="#fb0d12" stroke-width="0.4" stroke-opacity="0.6"/>
<line x1="159.30" y1="602.07" x2="159.30" y2="603.36" stroke="#000" stroke-width="1.0" />
<line x1="157.70" y1="602.07" x2="160.90" y2="602.07" stroke="#000" stroke-width="0.8" />
<line x1="157.70" y1="603.36" x2="160.90" y2="603.36" stroke="#000" stroke-width="0.8" />
<ellipse cx="159.30" cy="602.71" rx="1.4" ry="1.0" fill="#000"/>
<rect x="168.65" y="596.26" width="12.20" height="15.74" fill="#27b055" stroke="#27b055" stroke-width="0.4" stroke-opacity="0.6"/>
<line x1="174.75" y1="595.23" x2="174.75" y2="597.29" stroke="#000" stroke-width="1.0" />
<line x1="173.15" y1="595.23" x2="176.35" y2="595.23" stroke="#000" stroke-width="0.8" />
<line x1="173.15" y1="597.29" x2="176.35" y2="597.29" stroke="#000" stroke-width="0.8" />
<ellipse cx="174.75" cy="596.26" rx="1.4" ry="1.0" fill="#000"/>
<rect x="184.55" y="511.90" width="12.30" height="100.10" fill="#3e48d0" stroke="#3e48d0" stroke-width="0.4" stroke-opacity="0.6"/>
<line x1="190.70" y1="508.28" x2="190.70" y2="515.51" stroke="#000" stroke-width="1.0" />
<line x1="189.10" y1="508.28" x2="192.30" y2="508.28" stroke="#000" stroke-width="0.8" />
<line x1="189.10" y1="515.51" x2="192.30" y2="515.51" stroke="#000" stroke-width="0.8" />
<rect x="26.8" y="472.3" width="172.40" height="139.70" fill="none" stroke="#000" stroke-width="1.0"/>
<line x1="24.20" y1="612.00" x2="26.80" y2="612.00" stroke="#000" stroke-width="1.0" />
<text transform="translate(22.40,615.10) scale(0.9,1)" font-family='"Liberation Sans", Arial, sans-serif' font-size="8.7" font-weight="bold" text-anchor="end" fill="#000" >0</text>
<line x1="24.20" y1="586.20" x2="26.80" y2="586.20" stroke="#000" stroke-width="1.0" />
<text transform="translate(22.40,589.30) scale(0.9,1)" font-family='"Liberation Sans", Arial, sans-serif' font-size="8.7" font-weight="bold" text-anchor="end" fill="#000" >20</text>
<line x1="24.20" y1="560.40" x2="26.80" y2="560.40" stroke="#000" stroke-width="1.0" />
<text transform="translate(22.40,563.50) scale(0.9,1)" font-family='"Liberation Sans", Arial, sans-serif' font-size="8.7" font-weight="bold" text-anchor="end" fill="#000" >40</text>
<line x1="24.20" y1="534.60" x2="26.80" y2="534.60" stroke="#000" stroke-width="1.0" />
<text transform="translate(22.40,537.70) scale(0.9,1)" font-family='"Liberation Sans", Arial, sans-serif' font-size="8.7" font-weight="bold" text-anchor="end" fill="#000" >60</text>
<line x1="24.20" y1="508.80" x2="26.80" y2="508.80" stroke="#000" stroke-width="1.0" />
<text transform="translate(22.40,511.90) scale(0.9,1)" font-family='"Liberation Sans", Arial, sans-serif' font-size="8.7" font-weight="bold" text-anchor="end" fill="#000" >80</text>
<line x1="24.20" y1="483.00" x2="26.80" y2="483.00" stroke="#000" stroke-width="1.0" />
<text transform="translate(22.40,486.10) scale(0.9,1)" font-family='"Liberation Sans", Arial, sans-serif' font-size="8.7" font-weight="bold" text-anchor="end" fill="#000" >100</text>
<line x1="25.00" y1="599.10" x2="26.80" y2="599.10" stroke="#000" stroke-width="0.8" />
<line x1="25.00" y1="573.30" x2="26.80" y2="573.30" stroke="#000" stroke-width="0.8" />
<line x1="25.00" y1="547.50" x2="26.80" y2="547.50" stroke="#000" stroke-width="0.8" />
<line x1="25.00" y1="521.70" x2="26.80" y2="521.70" stroke="#000" stroke-width="0.8" />
<line x1="25.00" y1="495.90" x2="26.80" y2="495.90" stroke="#000" stroke-width="0.8" />
<line x1="34.20" y1="612.00" x2="34.20" y2="614.80" stroke="#000" stroke-width="0.9" />
<text transform="translate(36.10,625.00) rotate(-28)" font-family='"Liberation Sans", Arial, sans-serif' font-size="6.9" font-weight="bold" text-anchor="middle" fill="#000" >Blank</text>
<line x1="49.80" y1="612.00" x2="49.80" y2="614.80" stroke="#000" stroke-width="0.9" />
<text transform="translate(49.50,625.00) rotate(-28)" font-family='"Liberation Sans", Arial, sans-serif' font-size="6.9" font-weight="bold" text-anchor="middle" fill="#000" >AuNPs</text>
<line x1="65.80" y1="612.00" x2="65.80" y2="614.80" stroke="#000" stroke-width="0.9" />
<text transform="translate(65.50,625.00) rotate(-28)" font-family='"Liberation Sans", Arial, sans-serif' font-size="6.9" font-weight="bold" text-anchor="middle" fill="#000" >AuNSs</text>
<line x1="97.20" y1="612.00" x2="97.20" y2="614.80" stroke="#000" stroke-width="0.9" />
<text transform="translate(95.50,625.00) rotate(-28)" font-family='"Liberation Sans", Arial, sans-serif' font-size="6.9" font-weight="bold" text-anchor="middle" fill="#000" >Blank</text>
<line x1="112.40" y1="612.00" x2="112.40" y2="614.80" stroke="#000" stroke-width="0.9" />
<text transform="translate(108.40,625.00) rotate(-28)" font-family='"Liberation Sans", Arial, sans-serif' font-size="6.9" font-weight="bold" text-anchor="middle" fill="#000" >AuNPs</text>
<line x1="128.20" y1="612.00" x2="128.20" y2="614.80" stroke="#000" stroke-width="0.9" />
<text transform="translate(123.60,625.00) rotate(-28)" font-family='"Liberation Sans", Arial, sans-serif' font-size="6.9" font-weight="bold" text-anchor="middle" fill="#000" >AuNSs</text>
<line x1="159.30" y1="612.00" x2="159.30" y2="614.80" stroke="#000" stroke-width="0.9" />
<text transform="translate(152.00,625.00) rotate(-28)" font-family='"Liberation Sans", Arial, sans-serif' font-size="6.9" font-weight="bold" text-anchor="middle" fill="#000" >Blank</text>
<line x1="174.70" y1="612.00" x2="174.70" y2="614.80" stroke="#000" stroke-width="0.9" />
<text transform="translate(166.20,625.00) rotate(-28)" font-family='"Liberation Sans", Arial, sans-serif' font-size="6.9" font-weight="bold" text-anchor="middle" fill="#000" >AuNPs</text>
<line x1="190.70" y1="612.00" x2="190.70" y2="614.80" stroke="#000" stroke-width="0.9" />
<text transform="translate(182.10,625.00) rotate(-28)" font-family='"Liberation Sans", Arial, sans-serif' font-size="6.9" font-weight="bold" text-anchor="middle" fill="#000" >AuNSs</text>
<line x1="80.00" y1="612.00" x2="80.00" y2="614.80" stroke="#000" stroke-width="0.9" />
<line x1="143.00" y1="612.00" x2="143.00" y2="614.80" stroke="#000" stroke-width="0.9" />
<text transform="translate(10.80,550.30) rotate(-90)" font-family='"Liberation Sans", Arial, sans-serif' font-size="8.5" font-weight="bold" text-anchor="middle" fill="#000" >SPCE enhancements</text>
<text x="25.00" y="641.00" font-family='"Liberation Sans", Arial, sans-serif' font-size="8.6" font-weight="bold" text-anchor="start" fill="#000" >Spacer</text>
<text x="106.20" y="641.00" font-family='"Liberation Sans", Arial, sans-serif' font-size="8.6" font-weight="bold" text-anchor="middle" fill="#000" >Cavity</text>
<text x="163.00" y="641.00" font-family='"Liberation Sans", Arial, sans-serif' font-size="8.6" font-weight="bold" text-anchor="middle" fill="#000" >Ext. Cavity</text>
<text x="28.90" y="492.70" font-family='"Liberation Sans", Arial, sans-serif' font-size="18.5" font-weight="bold" text-anchor="start" fill="#000" >(g)</text>
</g>
<g id="panel-h">
<polyline points="233.40,595.66 233.92,594.90 234.44,594.02 234.97,593.01 235.49,591.91 236.01,590.71 236.53,589.43 237.05,588.07 237.58,586.65 238.10,585.17 238.62,583.60 239.14,581.82 239.66,579.86 240.19,577.76 240.71,575.55 241.23,573.29 241.75,571.00 242.28,568.72 242.80,566.49 243.32,564.22 243.84,561.91 244.36,559.56 244.89,557.18 245.41,554.78 245.93,552.37 246.45,549.97 246.97,547.57 247.50,545.16 248.02,542.71 248.54,540.24 249.06,537.77 249.58,535.31 250.11,532.89 250.63,530.52 251.15,528.21 251.67,525.95 252.19,523.70 252.72,521.46 253.24,519.26 253.76,517.11 254.28,515.03 254.81,513.04 255.33,511.14 255.85,509.34 256.37,507.58 256.89,505.84 257.42,504.17 257.94,502.56 258.46,501.04 258.98,499.62 259.50,498.33 260.03,497.19 260.55,496.10 261.07,495.04 261.59,494.07 262.11,493.20 262.64,492.49 263.16,491.97 263.68,491.58 264.20,491.22 264.72,490.89 265.25,490.63 265.77,490.44 266.29,490.34 266.81,490.36 267.33,490.47 267.86,490.68 268.38,490.96 268.90,491.30 269.42,491.67 269.95,492.07 270.47,492.65 270.99,493.42 271.51,494.33 272.03,495.33 272.56,496.38 273.08,497.43 273.60,498.51 274.12,499.68 274.64,500.93 275.17,502.23 275.69,503.59 276.21,504.98 276.73,506.39 277.25,507.81 277.78,509.24 278.30,510.69 278.82,512.17 279.34,513.69 279.86,515.24 280.39,516.84 280.91,518.50 281.43,520.21 281.95,522.00 282.47,523.92 283.00,525.97 283.52,528.10 284.04,530.29 284.56,532.49 285.09,534.67 285.61,536.78 286.13,538.79 286.65,540.72 287.17,542.62 287.70,544.49 288.22,546.33 288.74,548.14 289.26,549.92 289.78,551.67 290.31,553.39 290.83,555.08 291.35,556.75 291.87,558.41 292.39,560.04 292.92,561.64 293.44,563.20 293.96,564.71 294.48,566.16 295.00,567.55 295.53,568.90 296.05,570.22 296.57,571.50 297.09,572.74 297.62,573.93 298.14,575.07 298.66,576.15 299.18,577.17 299.70,578.14 300.23,579.07 300.75,579.96 301.27,580.82 301.79,581.64 302.31,582.43 302.84,583.19 303.36,583.91 303.88,584.60 304.40,585.27 304.92,585.91 305.45,586.53 305.97,587.12 306.49,587.69 307.01,588.24 307.53,588.76 308.06,589.27 308.58,589.76 309.10,590.24 309.62,590.71 310.14,591.16 310.67,591.58 311.19,591.99 311.71,592.36 312.23,592.71 312.76,593.04 313.28,593.35 313.80,593.64 314.32,593.91 314.84,594.18 315.37,594.43 315.89,594.67 316.41,594.90 316.93,595.12 317.45,595.34 317.98,595.55 318.50,595.75 319.02,595.94 319.54,596.12 320.06,596.30 320.59,596.46 321.11,596.61 321.63,596.75 322.15,596.89 322.67,597.02 323.20,597.15 323.72,597.27 324.24,597.39 324.76,597.50 325.28,597.61 325.81,597.72 326.33,597.82 326.85,597.92 327.37,598.02 327.90,598.11 328.42,598.21 328.94,598.30 329.46,598.38 329.98,598.47 330.51,598.55 331.03,598.63 331.55,598.71 332.07,598.79 332.59,598.86 333.12,598.94 333.64,599.01 334.16,599.08 334.68,599.15 335.20,599.22 335.73,599.28 336.25,599.35 336.77,599.42 337.29,599.48 337.81,599.54 338.34,599.61 338.86,599.67 339.38,599.73 339.90,599.79 340.43,599.85 340.95,599.91 341.47,599.96 341.99,600.02 342.51,600.07 343.04,600.13 343.56,600.18 344.08,600.23 344.60,600.28 345.12,600.33 345.65,600.37 346.17,600.42 346.69,600.47 347.21,600.52 347.73,600.56 348.26,600.61 348.78,600.65 349.30,600.70 349.82,600.74 350.34,600.78 350.87,600.83 351.39,600.87 351.91,600.91 352.43,600.95 352.95,600.99 353.48,601.03 354.00,601.06 354.52,601.10 355.04,601.14 355.57,601.17 356.09,601.21 356.61,601.24 357.13,601.27 357.65,601.30 358.18,601.33 358.70,601.36 359.22,601.39 359.74,601.42 360.26,601.45 360.79,601.47 361.31,601.50 361.83,601.53 362.35,601.55 362.87,601.58 363.40,601.61 363.92,601.63 364.44,601.66 364.96,601.68 365.48,601.70 366.01,601.73 366.53,601.75 367.05,601.77 367.57,601.79 368.09,601.82 368.62,601.84 369.14,601.86 369.66,601.88 370.18,601.90 370.71,601.92 371.23,601.93 371.75,601.95 372.27,601.97 372.79,601.99 373.32,602.00 373.84,602.02 374.36,602.03 374.88,602.05 375.40,602.06 375.93,602.08 376.45,602.09 376.97,602.11 377.49,602.12 378.01,602.13 378.54,602.15 379.06,602.16 379.58,602.17 380.10,602.19 380.62,602.20 381.15,602.21 381.67,602.22 382.19,602.24 382.71,602.25 383.24,602.26 383.76,602.27 384.28,602.28 384.80,602.29 385.32,602.30 385.85,602.31 386.37,602.32 386.89,602.32 387.41,602.33 387.93,602.34 388.46,602.35 388.98,602.35 389.50,602.36" fill="none" stroke="#2222ff" stroke-width="1.4" stroke-linejoin="round" stroke-linecap="round" />
<polyline points="233.40,601.57 234.18,601.29 234.97,601.00 235.75,600.70 236.54,600.40 237.32,600.07 238.11,599.74 238.89,599.38 239.68,599.00 240.46,598.60 241.24,598.19 242.03,597.77 242.81,597.34 243.60,596.92 244.38,596.50 245.17,596.09 245.95,595.69 246.74,595.32 247.52,594.97 248.30,594.61 249.09,594.25 249.87,593.91 250.66,593.57 251.44,593.25 252.23,592.96 253.01,592.69 253.79,592.46 254.58,592.23 255.36,591.99 256.15,591.76 256.93,591.55 257.72,591.37 258.50,591.23 259.29,591.15 260.07,591.12 260.85,591.16 261.64,591.23 262.42,591.33 263.21,591.46 263.99,591.61 264.78,591.76 265.56,591.92 266.35,592.06 267.13,592.21 267.91,592.36 268.70,592.53 269.48,592.70 270.27,592.89 271.05,593.08 271.84,593.28 272.62,593.50 273.41,593.73 274.19,593.99 274.97,594.29 275.76,594.61 276.54,594.95 277.33,595.30 278.11,595.65 278.90,595.99 279.68,596.31 280.47,596.60 281.25,596.87 282.03,597.09 282.82,597.29 283.60,597.48 284.39,597.66 285.17,597.84 285.96,598.00 286.74,598.15 287.53,598.30 288.31,598.45 289.09,598.59 289.88,598.73 290.66,598.86 291.45,599.00 292.23,599.13 293.02,599.26 293.80,599.39 294.58,599.51 295.37,599.64 296.15,599.75 296.94,599.87 297.72,599.98 298.51,600.09 299.29,600.19 300.08,600.29 300.86,600.38 301.64,600.47 302.43,600.55 303.21,600.64 304.00,600.72 304.78,600.80 305.57,600.87 306.35,600.95 307.14,601.02 307.92,601.08 308.70,601.15 309.49,601.21 310.27,601.26 311.06,601.31 311.84,601.36 312.63,601.41 313.41,601.45 314.20,601.50 314.98,601.54 315.76,601.58 316.55,601.62 317.33,601.66 318.12,601.70 318.90,601.73 319.69,601.77 320.47,601.80 321.26,601.84 322.04,601.87 322.82,601.89 323.61,601.92 324.39,601.95 325.18,601.97 325.96,601.99 326.75,602.01 327.53,602.03 328.32,602.05 329.10,602.06 329.88,602.08 330.67,602.10 331.45,602.11 332.24,602.13 333.02,602.14 333.81,602.16 334.59,602.17 335.37,602.19 336.16,602.20 336.94,602.21 337.73,602.23 338.51,602.24 339.30,602.25 340.08,602.26 340.87,602.27 341.65,602.28 342.43,602.30 343.22,602.31 344.00,602.32 344.79,602.33 345.57,602.34 346.36,602.35 347.14,602.36 347.93,602.36 348.71,602.37 349.49,602.38 350.28,602.39 351.06,602.40 351.85,602.41 352.63,602.42 353.42,602.42 354.20,602.43 354.99,602.44 355.77,602.45 356.55,602.46 357.34,602.46 358.12,602.47 358.91,602.48 359.69,602.49 360.48,602.49 361.26,602.50 362.05,602.51 362.83,602.52 363.61,602.52 364.40,602.53 365.18,602.54 365.97,602.54 366.75,602.55 367.54,602.56 368.32,602.57 369.11,602.57 369.89,602.58 370.67,602.58 371.46,602.59 372.24,602.60 373.03,602.60 373.81,602.61 374.60,602.62 375.38,602.62 376.16,602.63 376.95,602.63 377.73,602.64 378.52,602.64 379.30,602.65 380.09,602.65 380.87,602.66 381.66,602.66 382.44,602.67 383.22,602.67 384.01,602.68 384.79,602.68 385.58,602.68 386.36,602.69 387.15,602.69 387.93,602.69 388.72,602.70 389.50,602.70" fill="none" stroke="#333333" stroke-width="1.2" stroke-linejoin="round" stroke-linecap="round" />
<rect x="233.4" y="477.5" width="156.10" height="126.70" fill="none" stroke="#000" stroke-width="1.3"/>
<line x1="233.40" y1="604.00" x2="389.50" y2="604.00" stroke="#e81010" stroke-width="1.6" />
<line x1="230.60" y1="602.70" x2="233.40" y2="602.70" stroke="#000" stroke-width="1.1" />
<text x="228.40" y="606.10" font-family='"Liberation Sans", Arial, sans-serif' font-size="10.6" font-weight="bold" text-anchor="end" fill="#000" >0</text>
<line x1="230.60" y1="580.00" x2="233.40" y2="580.00" stroke="#000" stroke-width="1.1" />
<text x="228.40" y="583.40" font-family='"Liberation Sans", Arial, sans-serif' font-size="10.6" font-weight="bold" text-anchor="end" fill="#000" >1</text>
<line x1="230.60" y1="557.30" x2="233.40" y2="557.30" stroke="#000" stroke-width="1.1" />
<text x="228.40" y="560.70" font-family='"Liberation Sans", Arial, sans-serif' font-size="10.6" font-weight="bold" text-anchor="end" fill="#000" >2</text>
<line x1="230.60" y1="534.60" x2="233.40" y2="534.60" stroke="#000" stroke-width="1.1" />
<text x="228.40" y="538.00" font-family='"Liberation Sans", Arial, sans-serif' font-size="10.6" font-weight="bold" text-anchor="end" fill="#000" >3</text>
<line x1="230.60" y1="511.90" x2="233.40" y2="511.90" stroke="#000" stroke-width="1.1" />
<text x="228.40" y="515.30" font-family='"Liberation Sans", Arial, sans-serif' font-size="10.6" font-weight="bold" text-anchor="end" fill="#000" >4</text>
<line x1="230.60" y1="489.20" x2="233.40" y2="489.20" stroke="#000" stroke-width="1.1" />
<text x="228.40" y="492.60" font-family='"Liberation Sans", Arial, sans-serif' font-size="10.6" font-weight="bold" text-anchor="end" fill="#000" >5</text>
<line x1="231.80" y1="591.35" x2="233.40" y2="591.35" stroke="#000" stroke-width="0.9" />
<line x1="231.80" y1="568.65" x2="233.40" y2="568.65" stroke="#000" stroke-width="0.9" />
<line x1="231.80" y1="545.95" x2="233.40" y2="545.95" stroke="#000" stroke-width="0.9" />
<line x1="231.80" y1="523.25" x2="233.40" y2="523.25" stroke="#000" stroke-width="0.9" />
<line x1="231.80" y1="500.55" x2="233.40" y2="500.55" stroke="#000" stroke-width="0.9" />
<line x1="233.40" y1="604.20" x2="233.40" y2="607.70" stroke="#000" stroke-width="1.1" />
<text x="233.40" y="617.00" font-family='"Liberation Sans", Arial, sans-serif' font-size="10.7" font-weight="bold" text-anchor="middle" fill="#000" >540</text>
<line x1="264.62" y1="604.20" x2="264.62" y2="607.70" stroke="#000" stroke-width="1.1" />
<text x="264.62" y="617.00" font-family='"Liberation Sans", Arial, sans-serif' font-size="10.7" font-weight="bold" text-anchor="middle" fill="#000" >560</text>
<line x1="295.84" y1="604.20" x2="295.84" y2="607.70" stroke="#000" stroke-width="1.1" />
<text x="295.84" y="617.00" font-family='"Liberation Sans", Arial, sans-serif' font-size="10.7" font-weight="bold" text-anchor="middle" fill="#000" >580</text>
<line x1="327.06" y1="604.20" x2="327.06" y2="607.70" stroke="#000" stroke-width="1.1" />
<text x="327.06" y="617.00" font-family='"Liberation Sans", Arial, sans-serif' font-size="10.7" font-weight="bold" text-anchor="middle" fill="#000" >600</text>
<line x1="358.28" y1="604.20" x2="358.28" y2="607.70" stroke="#000" stroke-width="1.1" />
<text x="358.28" y="617.00" font-family='"Liberation Sans", Arial, sans-serif' font-size="10.7" font-weight="bold" text-anchor="middle" fill="#000" >620</text>
<line x1="389.50" y1="604.20" x2="389.50" y2="607.70" stroke="#000" stroke-width="1.1" />
<text x="389.50" y="617.00" font-family='"Liberation Sans", Arial, sans-serif' font-size="10.7" font-weight="bold" text-anchor="middle" fill="#000" >640</text>
<line x1="249.01" y1="604.20" x2="249.01" y2="606.20" stroke="#000" stroke-width="0.9" />
<line x1="280.23" y1="604.20" x2="280.23" y2="606.20" stroke="#000" stroke-width="0.9" />
<line x1="311.45" y1="604.20" x2="311.45" y2="606.20" stroke="#000" stroke-width="0.9" />
<line x1="342.67" y1="604.20" x2="342.67" y2="606.20" stroke="#000" stroke-width="0.9" />
<line x1="373.89" y1="604.20" x2="373.89" y2="606.20" stroke="#000" stroke-width="0.9" />
<text transform="translate(217.00,550.50) rotate(-90)" font-family='"Liberation Sans", Arial, sans-serif' font-size="9.85" font-weight="bold" text-anchor="middle" fill="#000" >SPCE intensity counts (x 10<tspan font-size="6" dy="-3.5">4</tspan><tspan dy="3.5">, a.u.)</tspan></text>
<text x="313.00" y="630.00" font-family='"Liberation Sans", Arial, sans-serif' font-size="11.0" font-weight="bold" text-anchor="middle" fill="#000" >Wavelength (nm)</text>
<text x="235.40" y="494.40" font-family='"Liberation Sans", Arial, sans-serif' font-size="18.2" font-weight="bold" text-anchor="start" fill="#000" >(h)</text>
<line x1="323.60" y1="487.90" x2="350.70" y2="487.90" stroke="#2222ff" stroke-width="1.4" />
<text x="354.00" y="491.70" font-family='"Liberation Sans", Arial, sans-serif' font-size="10.6" font-weight="bold" text-anchor="start" fill="#000" >SPCE</text>
<line x1="323.60" y1="500.30" x2="350.70" y2="500.30" stroke="#3a3a3a" stroke-width="1.4" />
<text x="354.00" y="504.10" font-family='"Liberation Sans", Arial, sans-serif' font-size="10.6" font-weight="bold" text-anchor="start" fill="#000" >Blank</text>
<line x1="323.60" y1="513.30" x2="350.70" y2="513.30" stroke="#ee1111" stroke-width="1.4" />
<text x="354.00" y="517.10" font-family='"Liberation Sans", Arial, sans-serif' font-size="10.6" font-weight="bold" text-anchor="start" fill="#000" >FS</text>
<text x="300.80" y="531.40" font-family='"Liberation Sans", Arial, sans-serif' font-size="11.1" font-weight="bold" text-anchor="start" fill="#000" >Spacer interface</text>
</g>
<g id="panel-i">
<path d="M452.10,591.60 A7.90,7.90 0 0 0 444.20,583.70" fill="none" stroke="#a6e0a6" stroke-width="0.7" stroke-dasharray="1.2,1.0"/>
<path d="M460.00,591.60 A15.80,15.80 0 0 0 444.20,575.80" fill="none" stroke="#a8a8ee" stroke-width="0.7" stroke-dasharray="1.2,1.0"/>
<path d="M467.90,591.60 A23.70,23.70 0 0 0 444.20,567.90" fill="none" stroke="#a6e0a6" stroke-width="0.7" stroke-dasharray="1.2,1.0"/>
<path d="M475.80,591.60 A31.60,31.60 0 0 0 444.20,560.00" fill="none" stroke="#a8a8ee" stroke-width="0.7" stroke-dasharray="1.2,1.0"/>
<path d="M483.70,591.60 A39.50,39.50 0 0 0 444.20,552.10" fill="none" stroke="#a6e0a6" stroke-width="0.7" stroke-dasharray="1.2,1.0"/>
<path d="M491.60,591.60 A47.40,47.40 0 0 0 444.20,544.20" fill="none" stroke="#a8a8ee" stroke-width="0.7" stroke-dasharray="1.2,1.0"/>
<path d="M499.50,591.60 A55.30,55.30 0 0 0 444.20,536.30" fill="none" stroke="#a6e0a6" stroke-width="0.7" stroke-dasharray="1.2,1.0"/>
<path d="M507.40,591.60 A63.20,63.20 0 0 0 444.20,528.40" fill="none" stroke="#a8a8ee" stroke-width="0.7" stroke-dasharray="1.2,1.0"/>
<path d="M515.30,591.60 A71.10,71.10 0 0 0 444.20,520.50" fill="none" stroke="#a6e0a6" stroke-width="0.7" stroke-dasharray="1.2,1.0"/>
<path d="M523.20,591.60 A79.00,79.00 0 0 0 444.20,512.60" fill="none" stroke="#a8a8ee" stroke-width="0.7" stroke-dasharray="1.2,1.0"/>
<line x1="444.20" y1="591.60" x2="519.11" y2="548.35" stroke="#c2c2c2" stroke-width="0.7" />
<line x1="444.20" y1="591.60" x2="487.45" y2="516.69" stroke="#c2c2c2" stroke-width="0.7" />
<line x1="444.20" y1="591.60" x2="530.70" y2="591.60" stroke="#c8c8c8" stroke-width="0.7" />
<polyline points="444.20,591.60 445.30,589.91 446.40,588.21 447.50,586.52 448.61,584.83 449.71,583.14 450.82,581.45 451.93,579.76 453.04,578.08 454.15,576.39 455.27,574.71 456.39,573.04 457.52,571.36 458.65,569.69 459.79,568.02 460.93,566.36 462.07,564.69 463.22,563.04 464.38,561.38 465.54,559.73 466.71,558.08 467.88,556.44 469.05,554.80 470.24,553.17 471.42,551.53 472.61,549.90 473.81,548.28 475.01,546.66 476.22,545.04 477.43,543.42 478.64,541.81 479.86,540.20 481.08,538.59 482.30,536.98 483.53,535.38 484.75,533.77 485.98,532.17 487.21,530.57 488.45,528.97 489.68,527.37 489.68,527.37 488.85,529.26 487.97,531.11 487.08,532.95 486.17,534.78 485.25,536.60 484.32,538.41 483.37,540.21 482.41,542.01 481.44,543.79 480.45,545.56 479.44,547.32 478.42,549.07 477.39,550.81 476.33,552.54 475.26,554.25 474.17,555.95 473.06,557.64 471.93,559.31 470.78,560.97 469.62,562.62 468.43,564.25 467.23,565.87 466.01,567.48 464.76,569.07 463.50,570.65 462.23,572.22 460.93,573.78 459.62,575.32 458.29,576.85 456.95,578.37 455.59,579.89 454.22,581.39 452.83,582.88 451.44,584.36 450.02,585.83 448.60,587.30 447.16,588.75 445.70,590.19 444.20,591.60" fill="none" stroke="#ee1111" stroke-width="1.3" stroke-linejoin="round" stroke-linecap="round" />
<path d="M530.70,591.60 A86.50,86.50 0 0 0 444.20,505.10" fill="none" stroke="#000" stroke-width="1.8"/>
<line x1="516.08" y1="550.10" x2="519.11" y2="548.35" stroke="#000" stroke-width="1.0" />
<line x1="485.70" y1="519.72" x2="487.45" y2="516.69" stroke="#000" stroke-width="1.0" />
<line x1="527.20" y1="591.60" x2="530.70" y2="591.60" stroke="#000" stroke-width="1.0" />
<line x1="530.70" y1="591.60" x2="530.70" y2="590.10" stroke="#000" stroke-width="1.0" />
<line x1="444.20" y1="505.10" x2="444.20" y2="505.10" stroke="#000" stroke-width="1.0" />
<line x1="439.00" y1="592.10" x2="439.00" y2="504.20" stroke="#000" stroke-width="1.3" />
<line x1="437.20" y1="504.70" x2="439.00" y2="504.70" stroke="#000" stroke-width="1.0" />
<line x1="443.30" y1="591.60" x2="443.30" y2="505.10" stroke="#c6c6c6" stroke-width="0.8" />
<line x1="443.20" y1="504.60" x2="443.20" y2="508.90" stroke="#000" stroke-width="1.3" />
<line x1="442.60" y1="505.10" x2="446.20" y2="505.10" stroke="#000" stroke-width="1.6" />
<line x1="434.80" y1="591.60" x2="439.00" y2="591.60" stroke="#000" stroke-width="1.0" />
<text x="431.80" y="594.50" font-family='"Liberation Sans", Arial, sans-serif' font-size="11.8" font-weight="bold" text-anchor="end" fill="#000" >0</text>
<line x1="434.80" y1="575.80" x2="439.00" y2="575.80" stroke="#000" stroke-width="1.0" />
<text x="431.80" y="578.70" font-family='"Liberation Sans", Arial, sans-serif' font-size="11.8" font-weight="bold" text-anchor="end" fill="#000" >1</text>
<line x1="434.80" y1="560.00" x2="439.00" y2="560.00" stroke="#000" stroke-width="1.0" />
<text x="431.80" y="562.90" font-family='"Liberation Sans", Arial, sans-serif' font-size="11.8" font-weight="bold" text-anchor="end" fill="#000" >2</text>
<line x1="434.80" y1="544.20" x2="439.00" y2="544.20" stroke="#000" stroke-width="1.0" />
<text x="431.80" y="547.10" font-family='"Liberation Sans", Arial, sans-serif' font-size="11.8" font-weight="bold" text-anchor="end" fill="#000" >3</text>
<line x1="434.80" y1="528.40" x2="439.00" y2="528.40" stroke="#000" stroke-width="1.0" />
<text x="431.80" y="531.30" font-family='"Liberation Sans", Arial, sans-serif' font-size="11.8" font-weight="bold" text-anchor="end" fill="#000" >4</text>
<line x1="434.80" y1="512.60" x2="439.00" y2="512.60" stroke="#000" stroke-width="1.0" />
<text x="431.80" y="515.50" font-family='"Liberation Sans", Arial, sans-serif' font-size="11.8" font-weight="bold" text-anchor="end" fill="#000" >5</text>
<line x1="436.80" y1="583.70" x2="439.00" y2="583.70" stroke="#000" stroke-width="0.9" />
<line x1="436.80" y1="567.90" x2="439.00" y2="567.90" stroke="#000" stroke-width="0.9" />
<line x1="436.80" y1="552.10" x2="439.00" y2="552.10" stroke="#000" stroke-width="0.9" />
<line x1="436.80" y1="536.30" x2="439.00" y2="536.30" stroke="#000" stroke-width="0.9" />
<line x1="436.80" y1="520.50" x2="439.00" y2="520.50" stroke="#000" stroke-width="0.9" />
<rect x="442.0" y="589.4" width="3.4" height="3.4" fill="#000"/>
<text transform="translate(419.30,552.00) rotate(-90)" font-family='"Liberation Sans", Arial, sans-serif' font-size="11.1" font-weight="bold" text-anchor="middle" fill="#000" >SPCE intensity (x10<tspan font-size="6" dy="-3.8">4</tspan><tspan dy="3.8">, a.u.)</tspan></text>
<text x="435.90" y="495.00" font-family='"Liberation Sans", Arial, sans-serif' font-size="12.3" font-weight="bold" text-anchor="start" fill="#000" >90<tspan font-size="11" dx="-0.2" dy="-0.8">°</tspan></text>
<text x="484.70" y="509.40" font-family='"Liberation Sans", Arial, sans-serif' font-size="12.3" font-weight="bold" text-anchor="start" fill="#000" >60<tspan font-size="11" dx="-0.2" dy="-0.8">°</tspan></text>
<text x="521.30" y="546.00" font-family='"Liberation Sans", Arial, sans-serif' font-size="12.3" font-weight="bold" text-anchor="start" fill="#000" >30<tspan font-size="11" dx="-0.2" dy="-0.8">°</tspan></text>
<text x="534.60" y="595.20" font-family='"Liberation Sans", Arial, sans-serif' font-size="12.3" font-weight="bold" text-anchor="start" fill="#000" >0<tspan font-size="11" dx="-0.2" dy="-0.8">°</tspan></text>
<line x1="429.80" y1="613.40" x2="457.90" y2="613.40" stroke="#ee1111" stroke-width="1.3" />
<text x="461.20" y="616.80" font-family='"Liberation Sans", Arial, sans-serif' font-size="10.8" font-weight="bold" text-anchor="start" fill="#000" textLength="78" lengthAdjust="spacingAndGlyphs">Spacer Interface</text>
<text x="521.80" y="495.50" font-family='"Liberation Sans", Arial, sans-serif' font-size="19.5" font-weight="bold" text-anchor="start" fill="#000" textLength="18.5" lengthAdjust="spacingAndGlyphs">(i)</text>
</g>
</svg>
</body></html>
